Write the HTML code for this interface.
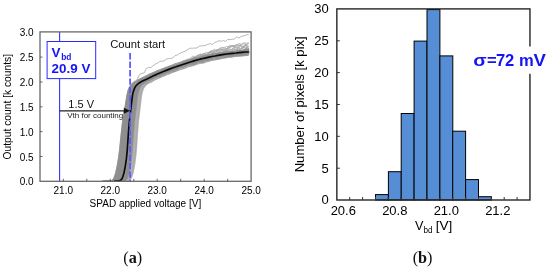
<!DOCTYPE html>
<html><head><meta charset="utf-8"><title>Figure</title>
<style>
html,body{margin:0;padding:0;background:#fff;}
svg{display:block;font-family:"Liberation Sans",sans-serif;}
.cap{font-family:"Liberation Serif",serif;}
</style></head><body>
<svg width="550" height="269" viewBox="0 0 550 269">
<rect width="550" height="269" fill="#fff"/>
<!-- panel a -->
<g>
<line x1="59.6" y1="31.9" x2="59.6" y2="181.3" stroke="#3333ff" stroke-width="1.1"/>
<path d="M100.9,181.2 104.9,181.2 107.2,181.1 108.9,180.9 110.9,180.5 112.1,179.7 113.3,178.2 114.9,173.8 116.5,166.3 117.8,158.9 119.0,150.0 120.4,136.0 122.0,122.0 123.6,113.0 125.0,104.3 126.5,95.4 127.2,91.2 128.0,88.8 128.7,87.2 129.3,85.9 130.4,84.4 131.3,83.4 132.7,82.2 134.3,81.1 137.4,79.4 141.4,77.5 145.4,75.4 149.4,73.5 153.4,71.8 157.4,70.1 161.4,68.5 165.4,66.9 169.4,65.4 173.4,64.0 177.4,62.6 181.4,61.2 185.4,59.9 189.4,58.7 193.4,57.6 197.4,56.6 201.4,55.6 205.4,54.7 209.4,54.0 213.4,53.2 217.4,52.5 221.4,51.9 225.4,51.4 229.4,50.9 233.4,50.4 237.4,50.0 241.4,49.6 245.4,49.2 248.7,48.9 248.7,55.9 247.9,56.0 243.9,56.3 239.9,56.7 235.9,57.1 231.9,57.6 227.9,58.1 223.9,58.8 219.9,59.4 215.9,60.2 211.9,61.0 207.9,61.9 203.9,62.9 199.9,64.0 195.9,65.1 191.9,66.4 187.9,67.6 183.9,68.9 179.9,70.3 175.9,71.7 171.9,73.3 167.9,74.8 163.9,76.4 159.9,78.2 155.9,80.1 151.9,81.9 148.8,83.5 147.2,84.5 145.8,85.7 144.9,86.7 143.9,88.2 143.3,89.5 142.7,91.1 142.0,93.5 141.4,95.4 140.3,104.3 139.3,113.0 138.2,122.0 137.1,136.0 136.2,150.0 135.3,158.9 134.2,166.3 132.7,173.8 131.2,178.2 130.1,179.7 128.9,180.5 126.9,180.9 125.2,181.1 122.9,181.2 118.9,181.2Z" fill="#a2a2a2" stroke="none"/>
<g fill="none" stroke-linejoin="round">
<path d="M118.3,181.2 122.3,181.2 124.6,181.1 126.3,180.9 128.3,180.5 129.5,179.6 130.6,178.2 132.1,173.7 133.6,166.1 134.7,158.6 135.6,149.6 136.5,135.5 137.6,121.3 138.7,112.2 139.7,103.4 140.8,94.4 141.4,91.5 142.1,89.1 142.7,87.4 143.3,86.1 144.3,84.6 145.2,83.5 146.6,82.3 148.2,81.2 150.7,77.2 153.2,77.9 155.7,77.2 158.2,76.0 160.7,73.1 163.2,72.9 165.7,71.2 168.2,70.3 170.7,71.1 173.2,68.1 175.7,67.8 178.2,67.7 180.7,65.2 183.2,64.7 185.7,64.0 188.2,63.0 190.7,60.8 193.2,61.2 195.7,61.6 198.2,57.8 200.7,59.4 203.2,57.8 205.7,56.3 208.2,58.2 210.7,56.3 213.2,53.6 215.7,54.3 218.2,54.2 220.7,52.9 223.2,53.2 225.7,51.9 228.2,52.1 230.7,52.4 233.2,49.9 235.7,50.3 238.2,49.3 240.7,49.5 243.2,47.8 245.7,48.1 248.2,48.2 248.7,49.2" stroke="#a2a2a2" stroke-opacity="1" stroke-width="0.75"/>
<path d="M113.5,181.2 117.5,181.2 119.8,181.1 121.5,180.9 123.5,180.5 124.7,179.6 125.8,178.2 127.3,173.7 128.8,166.1 129.9,158.6 130.8,149.6 131.7,135.4 132.8,121.2 133.9,112.1 134.9,103.3 136.0,94.2 136.6,91.4 137.3,89.0 137.9,87.3 138.5,86.0 139.5,84.5 140.4,83.4 141.8,82.2 143.4,81.0 145.9,80.6 148.4,78.3 150.9,77.6 153.4,74.4 155.9,74.8 158.4,71.5 160.9,70.0 163.4,70.6 165.9,68.9 168.4,68.9 170.9,69.9 173.4,65.7 175.9,64.9 178.4,64.8 180.9,64.1 183.4,62.5 185.9,61.5 188.4,61.5 190.9,60.4 193.4,58.0 195.9,58.1 198.4,57.4 200.9,55.5 203.4,56.1 205.9,54.2 208.4,55.4 210.9,54.0 213.4,53.3 215.9,52.0 218.4,51.9 220.9,49.5 223.4,49.9 225.9,50.9 228.4,47.9 230.9,50.4 233.4,47.4 235.9,49.6 238.4,47.6 240.9,48.9 243.4,47.9 245.9,45.9 248.4,48.4 248.7,48.5" stroke="#a2a2a2" stroke-opacity="1" stroke-width="0.75"/>
<path d="M115.6,181.2 119.6,181.2 121.9,181.1 123.6,180.9 125.6,180.5 126.8,179.6 127.9,178.2 129.4,173.7 130.9,166.1 132.0,158.6 132.9,149.5 133.8,135.3 134.9,121.1 136.0,111.9 137.0,103.1 138.1,94.1 138.7,91.2 139.4,88.7 140.0,87.1 140.6,85.8 141.6,84.2 142.5,83.2 143.9,81.9 145.5,80.8 148.0,80.7 150.5,76.6 153.0,76.5 155.5,74.8 158.0,72.3 160.5,73.6 163.0,71.6 165.5,70.6 168.0,68.7 170.5,68.8 173.0,66.7 175.5,66.0 178.0,64.0 180.5,62.9 183.0,64.5 185.5,61.7 188.0,61.5 190.5,60.3 193.0,58.9 195.5,58.0 198.0,58.3 200.5,56.5 203.0,55.9 205.5,55.3 208.0,55.7 210.5,54.5 213.0,53.6 215.5,52.0 218.0,50.6 220.5,52.3 223.0,51.8 225.5,50.2 228.0,50.3 230.5,50.1 233.0,49.7 235.5,49.4 238.0,47.6 240.5,49.2 243.0,46.1 245.5,47.9 248.0,47.1 248.7,47.4" stroke="#a2a2a2" stroke-opacity="1" stroke-width="0.75"/>
<path d="M118.0,181.2 122.0,181.2 124.3,181.1 126.0,180.9 128.0,180.5 129.2,179.6 130.3,178.1 131.8,173.7 133.3,166.0 134.4,158.5 135.3,149.5 136.2,135.2 137.3,121.0 138.4,111.8 139.4,102.9 140.5,93.8 141.1,91.0 141.8,88.5 142.4,86.8 143.0,85.5 144.0,84.0 144.9,82.9 146.3,81.6 147.9,80.5 150.4,79.2 152.9,76.9 155.4,76.8 157.9,75.4 160.4,75.8 162.9,71.1 165.4,72.2 167.9,70.1 170.4,69.0 172.9,66.5 175.4,66.3 177.9,66.5 180.4,64.6 182.9,63.7 185.4,62.4 187.9,62.8 190.4,60.7 192.9,57.6 195.4,58.2 197.9,56.0 200.4,53.8 202.9,55.7 205.4,56.8 207.9,54.7 210.4,52.7 212.9,52.3 215.4,53.7 217.9,52.1 220.4,51.3 222.9,50.7 225.4,50.2 227.9,50.4 230.4,49.6 232.9,48.8 235.4,47.1 237.9,48.2 240.4,46.6 242.9,48.0 245.4,45.3 247.9,46.1 248.7,46.1" stroke="#a2a2a2" stroke-opacity="1" stroke-width="0.75"/>
<path d="M112.7,181.2 116.7,181.2 119.0,181.1 120.7,180.9 122.7,180.5 123.9,179.6 125.0,178.1 126.5,173.7 128.0,166.0 129.1,158.5 130.0,149.4 130.9,135.1 132.0,120.9 133.1,111.7 134.1,102.8 135.2,93.7 135.8,90.9 136.5,88.4 137.1,86.8 137.7,85.5 138.7,83.9 139.6,82.9 141.0,81.6 142.6,80.4 145.1,78.7 147.6,77.4 150.1,76.4 152.6,76.5 155.1,74.2 157.6,72.3 160.1,70.6 162.6,69.4 165.1,70.5 167.6,68.2 170.1,66.7 172.6,65.2 175.1,63.4 177.6,63.4 180.1,63.3 182.6,61.1 185.1,60.3 187.6,59.3 190.1,58.7 192.6,56.1 195.1,56.6 197.6,55.1 200.1,56.0 202.6,53.6 205.1,54.2 207.6,54.4 210.1,51.9 212.6,50.9 215.1,51.1 217.6,50.3 220.1,48.8 222.6,49.7 225.1,50.7 227.6,47.9 230.1,47.5 232.6,46.2 235.1,47.2 237.6,45.2 240.1,45.0 242.6,47.0 245.1,44.4 247.6,46.1 248.7,46.3" stroke="#a2a2a2" stroke-opacity="1" stroke-width="0.75"/>
<path d="M118.4,181.2 122.4,181.2 124.7,181.1 126.4,180.9 128.4,180.5 129.6,179.6 130.7,178.1 132.2,173.6 133.7,166.0 134.8,158.4 135.7,149.3 136.6,135.0 137.7,120.7 138.8,111.5 139.8,102.6 140.9,93.5 141.5,90.6 142.2,88.1 142.8,86.4 143.4,85.1 144.4,83.5 145.3,82.5 146.7,81.2 148.3,80.0 150.8,76.5 153.3,75.8 155.8,76.7 158.3,75.2 160.8,73.0 163.3,70.2 165.8,70.3 168.3,68.8 170.8,69.0 173.3,69.4 175.8,66.3 178.3,64.2 180.8,62.7 183.3,62.8 185.8,61.6 188.3,59.7 190.8,60.0 193.3,57.7 195.8,59.0 198.3,58.1 200.8,57.2 203.3,54.7 205.8,54.9 208.3,53.5 210.8,52.4 213.3,51.8 215.8,50.1 218.3,49.3 220.8,50.9 223.3,49.3 225.8,49.1 228.3,49.4 230.8,46.1 233.3,46.5 235.8,47.0 238.3,46.8 240.8,45.6 243.3,46.6 245.8,45.3 248.3,43.5 248.7,43.8" stroke="#a2a2a2" stroke-opacity="1" stroke-width="0.75"/>
<path d="M116.8,181.2 120.8,181.2 123.1,181.1 124.8,180.9 126.8,180.5 128.0,179.6 129.1,178.1 130.6,173.6 132.1,166.0 133.2,158.4 134.1,149.3 135.0,134.9 136.1,120.6 137.2,111.4 138.2,102.5 139.3,93.3 139.9,90.4 140.6,88.0 141.2,86.3 141.8,84.9 142.8,83.4 143.7,82.3 145.1,81.0 146.7,79.8 149.2,78.0 151.7,76.0 154.2,74.4 156.7,74.3 159.2,73.8 161.7,70.1 164.2,70.4 166.7,68.6 169.2,67.1 171.7,67.8 174.2,65.2 176.7,66.1 179.2,62.8 181.7,62.9 184.2,61.3 186.7,59.7 189.2,60.1 191.7,58.4 194.2,58.1 196.7,56.5 199.2,54.6 201.7,54.7 204.2,54.0 206.7,54.1 209.2,51.5 211.7,51.6 214.2,49.2 216.7,50.9 219.2,48.5 221.7,47.2 224.2,48.3 226.7,48.9 229.2,45.7 231.7,45.6 234.2,45.5 236.7,44.6 239.2,45.7 241.7,44.1 244.2,43.8 246.7,44.7 248.7,43.0" stroke="#a2a2a2" stroke-opacity="1" stroke-width="0.75"/>
<path d="M119.0,181.2 123.0,181.2 125.3,181.1 127.0,180.9 129.0,180.5 130.2,179.6 131.3,178.1 132.8,173.6 134.3,165.9 135.4,158.3 136.3,149.2 137.2,134.9 138.3,120.5 139.4,111.2 140.4,102.2 141.5,93.1 142.1,90.2 142.8,87.7 143.4,86.0 144.0,84.7 145.0,83.1 145.9,82.0 147.3,80.7 148.9,79.5 151.4,76.9 153.9,76.4 156.4,73.8 158.9,73.0 161.4,73.9 163.9,72.1 166.4,69.6 168.9,67.9 171.4,65.8 173.9,66.1 176.4,65.3 178.9,64.1 181.4,63.0 183.9,60.9 186.4,60.9 188.9,59.9 191.4,60.2 193.9,59.8 196.4,56.8 198.9,55.3 201.4,55.0 203.9,53.6 206.4,52.6 208.9,52.5 211.4,50.7 213.9,51.6 216.4,50.1 218.9,49.8 221.4,48.7 223.9,47.5 226.4,46.7 228.9,46.8 231.4,46.0 233.9,46.2 236.4,45.4 238.9,43.6 241.4,44.6 243.9,42.8 246.4,43.1 248.7,43.0" stroke="#a2a2a2" stroke-opacity="1" stroke-width="0.75"/>
<path d="M101.5,181.2 105.5,181.2 107.8,181.1 109.5,180.9 111.5,180.5 112.7,179.7 113.9,178.2 115.5,173.8 117.2,166.3 118.4,158.9 119.6,150.0 121.0,136.0 122.5,122.0 124.0,113.0 125.4,104.3 126.8,95.4 127.5,92.6 128.3,90.2 129.0,88.6 129.6,87.3 130.7,85.9 131.6,84.8 133.0,83.6 134.6,82.5 137.1,80.2 139.6,80.3 142.1,79.6 144.6,78.2 147.1,76.5 149.6,74.2 152.1,74.7 154.6,73.0 157.1,70.4 159.6,71.3 162.1,69.1 164.6,68.2 167.1,67.7 169.6,68.1 172.1,66.1 174.6,65.7 177.1,65.8 179.6,64.9 182.1,62.9 184.6,62.1 187.1,60.6 189.6,60.3 192.1,60.3 194.6,59.6 197.1,58.8 199.6,58.8 202.1,57.1 204.6,57.1 207.1,57.1 209.6,56.5 212.1,56.4 214.6,55.5 217.1,54.6 219.6,54.7 222.1,53.5 224.6,52.7 227.1,53.9 229.6,53.2 232.1,53.2 234.6,51.6 237.1,52.2 239.6,51.8 242.1,51.4 244.6,50.3 247.1,51.3 248.7,52.0" stroke="#8e8e8e" stroke-opacity="0.7" stroke-width="1.0"/>
<path d="M111.8,181.2 115.8,181.2 118.1,181.1 119.8,180.9 121.8,180.5 123.0,179.7 124.1,178.2 125.6,173.8 127.1,166.3 128.2,158.9 129.1,150.1 130.0,136.1 131.1,122.1 132.2,113.1 133.2,104.5 134.3,95.6 134.9,92.8 135.6,90.4 136.2,88.8 136.8,87.5 137.8,86.0 138.7,85.0 140.1,83.8 141.7,82.7 144.2,81.9 146.7,80.9 149.2,78.0 151.7,77.2 154.2,76.8 156.7,75.0 159.2,73.4 161.7,74.0 164.2,72.6 166.7,71.6 169.2,70.0 171.7,70.0 174.2,68.3 176.7,68.3 179.2,66.1 181.7,65.3 184.2,65.1 186.7,63.7 189.2,63.8 191.7,62.8 194.2,61.3 196.7,61.2 199.2,60.2 201.7,60.4 204.2,58.8 206.7,58.3 209.2,58.9 211.7,59.0 214.2,58.4 216.7,56.7 219.2,56.3 221.7,56.8 224.2,55.3 226.7,54.4 229.2,54.7 231.7,54.7 234.2,53.6 236.7,52.8 239.2,52.6 241.7,53.8 244.2,52.6 246.7,52.8 248.7,52.8" stroke="#8e8e8e" stroke-opacity="0.7" stroke-width="1.0"/>
<path d="M112.8,181.2 116.8,181.2 119.1,181.1 120.8,180.9 122.8,180.5 124.0,179.7 125.1,178.2 126.6,173.8 128.1,166.3 129.2,158.9 130.1,150.0 131.0,136.1 132.1,122.1 133.2,113.1 134.2,104.4 135.3,95.5 135.9,92.7 136.6,90.3 137.2,88.7 137.8,87.4 138.8,86.0 139.7,85.0 141.1,83.7 142.7,82.7 145.2,82.5 147.7,81.2 150.2,79.3 152.7,78.1 155.2,75.2 157.7,75.7 160.2,74.1 162.7,73.5 165.2,72.7 167.7,71.0 170.2,69.1 172.7,69.5 175.2,67.9 177.7,67.2 180.2,66.2 182.7,65.5 185.2,63.4 187.7,64.9 190.2,63.4 192.7,63.2 195.2,63.0 197.7,61.0 200.2,59.1 202.7,59.1 205.2,58.3 207.7,58.1 210.2,58.0 212.7,56.1 215.2,57.1 217.7,55.5 220.2,56.2 222.7,55.5 225.2,55.0 227.7,54.7 230.2,54.1 232.7,53.8 235.2,52.8 237.7,53.6 240.2,54.5 242.7,54.4 245.2,53.7 247.7,53.1 248.7,52.1" stroke="#8e8e8e" stroke-opacity="0.7" stroke-width="1.0"/>
<path d="M116.1,181.2 120.1,181.2 122.4,181.1 124.1,180.9 126.1,180.5 127.3,179.7 128.4,178.2 129.9,173.8 131.4,166.3 132.5,158.9 133.4,150.0 134.3,136.0 135.4,122.0 136.5,113.1 137.5,104.4 138.6,95.5 139.2,92.7 139.9,90.3 140.5,88.6 141.1,87.4 142.1,85.9 143.0,84.9 144.4,83.7 146.0,82.6 148.5,80.9 151.0,80.5 153.5,79.3 156.0,78.5 158.5,75.4 161.0,75.7 163.5,74.0 166.0,72.7 168.5,72.5 171.0,70.5 173.5,68.8 176.0,68.9 178.5,67.2 181.0,66.9 183.5,66.7 186.0,65.8 188.5,65.8 191.0,63.8 193.5,62.1 196.0,61.8 198.5,61.0 201.0,60.0 203.5,60.4 206.0,59.1 208.5,57.6 211.0,58.7 213.5,57.6 216.0,57.4 218.5,56.8 221.0,56.7 223.5,55.8 226.0,56.2 228.5,55.2 231.0,54.8 233.5,54.5 236.0,53.0 238.5,53.5 241.0,53.2 243.5,53.2 246.0,52.0 248.5,53.7 248.7,52.7" stroke="#b4b4b4" stroke-opacity="0.8" stroke-width="0.8"/>
<path d="M105.2,181.2 109.2,181.2 111.5,181.1 113.2,180.9 115.2,180.5 116.4,179.7 117.5,178.2 119.1,173.8 120.7,166.4 121.9,159.0 122.9,150.2 124.1,136.2 125.4,122.3 126.8,113.3 128.0,104.7 129.3,95.8 129.9,93.0 130.7,90.6 131.3,89.0 132.0,87.8 133.0,86.3 133.9,85.3 135.3,84.1 136.9,83.0 139.4,81.5 141.9,79.3 144.4,79.0 146.9,78.6 149.4,77.3 151.9,75.7 154.4,74.1 156.9,74.1 159.4,72.3 161.9,71.0 164.4,70.2 166.9,70.7 169.4,69.0 171.9,68.8 174.4,66.9 176.9,67.0 179.4,65.1 181.9,64.6 184.4,65.6 186.9,63.7 189.4,62.1 191.9,61.7 194.4,61.3 196.9,61.2 199.4,59.5 201.9,58.2 204.4,58.6 206.9,58.3 209.4,57.9 211.9,58.2 214.4,57.2 216.9,57.1 219.4,55.4 221.9,56.4 224.4,56.9 226.9,55.7 229.4,55.1 231.9,54.8 234.4,55.6 236.9,53.6 239.4,53.9 241.9,54.1 244.4,54.1 246.9,53.1 248.7,53.4" stroke="#8e8e8e" stroke-opacity="0.7" stroke-width="1.0"/>
<path d="M109.1,181.2 113.1,181.2 115.4,181.1 117.1,180.9 119.1,180.5 120.3,179.7 121.4,178.2 123.0,173.8 124.5,166.3 125.6,158.9 126.5,150.0 127.5,136.0 128.6,122.0 129.8,113.0 130.8,104.3 131.9,95.4 132.5,92.6 133.2,90.2 133.9,88.6 134.5,87.3 135.5,85.8 136.4,84.8 137.8,83.6 139.4,82.5 141.9,81.3 144.4,80.5 146.9,78.8 149.4,77.9 151.9,76.0 154.4,73.8 156.9,74.7 159.4,73.5 161.9,72.1 164.4,71.1 166.9,70.7 169.4,68.8 171.9,67.7 174.4,67.1 176.9,67.1 179.4,64.6 181.9,65.4 184.4,63.4 186.9,62.3 189.4,63.0 191.9,61.4 194.4,59.9 196.9,59.8 199.4,60.0 201.9,59.5 204.4,57.9 206.9,57.9 209.4,57.5 211.9,56.2 214.4,56.3 216.9,55.6 219.4,54.9 221.9,54.5 224.4,54.5 226.9,54.1 229.4,53.4 231.9,53.2 234.4,53.9 236.9,53.1 239.4,53.3 241.9,53.2 244.4,52.6 246.9,53.4 248.7,51.3" stroke="#8e8e8e" stroke-opacity="0.7" stroke-width="1.0"/>
<path d="M113.5,181.2 117.5,181.2 119.8,181.1 121.5,180.9 123.5,180.5 124.7,179.7 125.8,178.2 127.3,173.8 128.8,166.3 129.9,158.9 130.8,150.0 131.7,136.1 132.8,122.1 133.9,113.1 134.9,104.4 136.0,95.5 136.6,92.7 137.3,90.3 137.9,88.7 138.5,87.4 139.5,86.0 140.4,85.0 141.8,83.7 143.4,82.7 145.9,81.9 148.4,80.0 150.9,79.6 153.4,77.7 155.9,76.4 158.4,75.7 160.9,74.9 163.4,73.0 165.9,72.1 168.4,71.1 170.9,70.3 173.4,68.7 175.9,69.0 178.4,67.2 180.9,66.9 183.4,65.2 185.9,65.1 188.4,64.3 190.9,63.0 193.4,63.8 195.9,61.9 198.4,62.1 200.9,60.9 203.4,59.2 205.9,58.8 208.4,58.7 210.9,57.9 213.4,57.4 215.9,56.7 218.4,55.3 220.9,55.8 223.4,54.1 225.9,55.4 228.4,54.3 230.9,54.0 233.4,54.0 235.9,54.0 238.4,52.7 240.9,52.2 243.4,52.4 245.9,51.5 248.4,52.0 248.7,53.6" stroke="#8e8e8e" stroke-opacity="0.7" stroke-width="1.0"/>
<path d="M105.8,181.2 109.8,181.2 112.1,181.1 113.8,180.9 115.8,180.5 117.1,179.7 118.2,178.2 119.7,173.8 121.3,166.3 122.5,158.9 123.5,150.0 124.7,136.0 126.0,121.9 127.3,112.9 128.4,104.2 129.7,95.3 130.4,92.5 131.1,90.1 131.7,88.5 132.4,87.2 133.4,85.7 134.3,84.7 135.7,83.5 137.3,82.4 139.8,80.3 142.3,79.3 144.8,78.4 147.3,78.1 149.8,75.6 152.3,74.5 154.8,74.5 157.3,73.4 159.8,71.6 162.3,70.1 164.8,68.8 167.3,68.4 169.8,66.4 172.3,67.5 174.8,65.7 177.3,65.5 179.8,65.6 182.3,64.3 184.8,62.0 187.3,62.5 189.8,61.9 192.3,59.9 194.8,59.1 197.3,59.0 199.8,57.4 202.3,58.8 204.8,55.7 207.3,56.0 209.8,56.0 212.3,55.6 214.8,55.4 217.3,55.0 219.8,54.3 222.3,54.8 224.8,52.3 227.3,53.4 229.8,52.6 232.3,52.9 234.8,52.7 237.3,51.7 239.8,51.6 242.3,52.3 244.8,51.7 247.3,50.8 248.7,52.5" stroke="#8e8e8e" stroke-opacity="0.7" stroke-width="1.0"/>
<path d="M119.2,181.2 123.2,181.2 125.5,181.1 127.2,180.9 129.2,180.5 130.4,179.7 131.5,178.2 133.0,173.8 134.5,166.4 135.6,159.0 136.5,150.1 137.4,136.2 138.5,122.3 139.6,113.3 140.6,104.6 141.7,95.8 142.3,93.0 143.0,90.6 143.6,89.0 144.2,87.8 145.2,86.3 146.1,85.3 147.5,84.1 149.1,83.0 151.6,82.5 154.1,80.5 156.6,78.8 159.1,77.8 161.6,76.5 164.1,75.9 166.6,74.2 169.1,74.4 171.6,72.2 174.1,70.2 176.6,70.3 179.1,68.5 181.6,68.9 184.1,68.7 186.6,67.6 189.1,65.5 191.6,65.0 194.1,65.9 196.6,64.1 199.1,63.2 201.6,63.1 204.1,63.3 206.6,61.9 209.1,60.5 211.6,60.0 214.1,59.6 216.6,58.3 219.1,57.5 221.6,57.8 224.1,56.7 226.6,56.8 229.1,56.5 231.6,57.6 234.1,55.2 236.6,55.3 239.1,55.0 241.6,55.1 244.1,55.3 246.6,54.0 248.7,53.6" stroke="#b4b4b4" stroke-opacity="0.8" stroke-width="0.8"/>
<path d="M103.4,181.2 107.4,181.2 109.7,181.1 111.4,180.9 113.4,180.5 114.6,179.7 115.7,178.2 117.3,173.8 118.9,166.3 120.2,159.0 121.3,150.1 122.5,136.1 124.0,122.2 125.4,113.2 126.7,104.5 128.1,95.7 128.7,92.9 129.5,90.5 130.2,88.8 130.8,87.6 131.8,86.1 132.8,85.1 134.2,83.9 135.8,82.8 138.3,81.8 140.8,80.8 143.3,78.8 145.8,78.5 148.3,77.4 150.8,76.2 153.3,75.3 155.8,73.3 158.3,72.3 160.8,72.0 163.3,69.5 165.8,69.6 168.3,68.2 170.8,67.4 173.3,65.7 175.8,65.4 178.3,65.1 180.8,64.9 183.3,64.2 185.8,62.7 188.3,61.9 190.8,60.8 193.3,60.9 195.8,59.8 198.3,59.8 200.8,59.9 203.3,58.2 205.8,56.8 208.3,56.7 210.8,55.9 213.3,55.6 215.8,56.8 218.3,55.7 220.8,54.2 223.3,55.3 225.8,55.4 228.3,54.1 230.8,53.6 233.3,53.6 235.8,53.7 238.3,53.7 240.8,53.9 243.3,53.7 245.8,53.4 248.3,53.4 248.7,52.9" stroke="#8e8e8e" stroke-opacity="0.7" stroke-width="1.0"/>
<path d="M103.8,181.2 107.8,181.2 110.1,181.1 111.8,180.9 113.8,180.5 115.0,179.7 116.2,178.2 117.7,173.8 119.4,166.3 120.6,158.9 121.7,150.0 122.9,136.0 124.4,122.1 125.7,113.1 127.0,104.4 128.4,95.5 129.0,92.7 129.8,90.3 130.5,88.7 131.1,87.4 132.1,85.9 133.1,84.9 134.5,83.7 136.1,82.6 138.6,80.8 141.1,80.6 143.6,78.5 146.1,77.0 148.6,76.5 151.1,75.7 153.6,73.8 156.1,73.4 158.6,72.1 161.1,73.0 163.6,69.7 166.1,70.1 168.6,68.2 171.1,67.2 173.6,66.9 176.1,66.2 178.6,65.6 181.1,64.2 183.6,62.7 186.1,62.0 188.6,61.9 191.1,61.2 193.6,61.1 196.1,59.8 198.6,59.6 201.1,59.3 203.6,57.9 206.1,56.3 208.6,56.0 211.1,55.3 213.6,56.9 216.1,54.9 218.6,55.8 221.1,55.0 223.6,55.4 226.1,54.6 228.6,53.6 231.1,53.3 233.6,53.2 236.1,53.0 238.6,52.3 241.1,52.4 243.6,53.2 246.1,50.9 248.6,51.9 248.7,51.1" stroke="#8e8e8e" stroke-opacity="0.7" stroke-width="1.0"/>
<path d="M111.0,181.2 115.0,181.2 117.3,181.1 119.0,180.9 121.0,180.5 122.2,179.7 123.3,178.2 124.8,173.8 126.3,166.3 127.4,158.9 128.3,150.0 129.2,135.9 130.3,121.9 131.4,112.9 132.4,104.2 133.5,95.3 134.1,92.5 134.8,90.1 135.4,88.4 136.0,87.2 137.0,85.7 137.9,84.7 139.3,83.5 140.9,82.4 143.4,80.3 145.9,80.6 148.4,77.8 150.9,77.2 153.4,76.3 155.9,75.5 158.4,74.1 160.9,73.0 163.4,71.3 165.9,69.9 168.4,69.8 170.9,68.3 173.4,67.0 175.9,66.1 178.4,65.7 180.9,63.9 183.4,63.4 185.9,62.4 188.4,62.7 190.9,62.1 193.4,62.3 195.9,59.3 198.4,59.1 200.9,59.5 203.4,58.1 205.9,57.5 208.4,58.2 210.9,56.4 213.4,55.3 215.9,54.7 218.4,55.4 220.9,54.9 223.4,53.4 225.9,53.2 228.4,53.9 230.9,53.6 233.4,52.5 235.9,53.0 238.4,52.7 240.9,50.9 243.4,51.6 245.9,51.8 248.4,50.9 248.7,49.9" stroke="#8e8e8e" stroke-opacity="0.7" stroke-width="1.0"/>
<path d="M109.1,181.2 113.1,181.2 115.4,181.1 117.1,180.9 119.1,180.5 120.3,179.7 121.4,178.2 122.9,173.8 124.5,166.3 125.6,158.9 126.5,150.0 127.4,135.9 128.6,121.9 129.7,112.9 130.8,104.2 131.9,95.3 132.5,92.5 133.2,90.1 133.8,88.5 134.4,87.2 135.4,85.7 136.4,84.7 137.8,83.5 139.4,82.4 141.9,81.0 144.4,79.2 146.9,78.5 149.4,77.3 151.9,77.4 154.4,75.8 156.9,73.8 159.4,73.6 161.9,71.3 164.4,70.6 166.9,70.4 169.4,68.0 171.9,67.7 174.4,66.1 176.9,66.1 179.4,66.2 181.9,63.8 184.4,63.6 186.9,62.1 189.4,61.1 191.9,60.3 194.4,61.3 196.9,61.2 199.4,59.3 201.9,57.9 204.4,58.2 206.9,57.0 209.4,57.2 211.9,56.3 214.4,55.9 216.9,55.6 219.4,54.4 221.9,54.1 224.4,52.8 226.9,53.3 229.4,52.4 231.9,52.9 234.4,52.1 236.9,52.5 239.4,52.5 241.9,51.0 244.4,51.1 246.9,50.8 248.7,51.7" stroke="#8e8e8e" stroke-opacity="0.7" stroke-width="1.0"/>
<path d="M117.1,181.2 121.1,181.2 123.4,181.1 125.1,180.9 127.1,180.5 128.3,179.7 129.4,178.2 130.9,173.8 132.4,166.3 133.5,158.9 134.4,150.0 135.3,135.9 136.4,121.9 137.5,112.9 138.5,104.2 139.6,95.3 140.2,92.5 140.9,90.1 141.5,88.4 142.1,87.2 143.1,85.7 144.0,84.7 145.4,83.4 147.0,82.3 149.5,80.3 152.0,80.1 154.5,78.5 157.0,76.6 159.5,75.8 162.0,74.6 164.5,73.5 167.0,73.3 169.5,72.2 172.0,70.3 174.5,69.1 177.0,68.9 179.5,67.7 182.0,67.5 184.5,67.7 187.0,65.7 189.5,64.2 192.0,63.3 194.5,62.0 197.0,61.2 199.5,60.4 202.0,60.0 204.5,59.3 207.0,59.4 209.5,58.0 212.0,57.5 214.5,56.3 217.0,57.6 219.5,56.4 222.0,56.7 224.5,55.6 227.0,55.6 229.5,54.1 232.0,54.3 234.5,55.3 237.0,52.4 239.5,53.6 242.0,53.7 244.5,52.6 247.0,52.5 248.7,52.7" stroke="#b4b4b4" stroke-opacity="0.8" stroke-width="0.8"/>
<path d="M107.5,181.2 111.5,181.2 113.8,181.1 115.5,180.9 117.5,180.5 118.7,179.7 119.8,178.2 121.3,173.8 122.9,166.3 124.0,158.9 125.0,150.0 126.0,136.0 127.3,122.0 128.5,113.0 129.6,104.3 130.8,95.4 131.4,92.6 132.2,90.2 132.8,88.5 133.4,87.3 134.4,85.8 135.3,84.8 136.7,83.6 138.3,82.5 140.8,82.1 143.3,79.8 145.8,78.4 148.3,77.5 150.8,75.9 153.3,76.1 155.8,73.4 158.3,73.5 160.8,71.1 163.3,71.4 165.8,69.8 168.3,67.2 170.8,68.0 173.3,66.4 175.8,65.9 178.3,66.4 180.8,63.8 183.3,63.0 185.8,63.8 188.3,62.1 190.8,62.3 193.3,60.8 195.8,59.3 198.3,59.1 200.8,59.4 203.3,58.6 205.8,57.4 208.3,56.9 210.8,56.3 213.3,55.5 215.8,56.7 218.3,55.0 220.8,53.8 223.3,53.9 225.8,54.4 228.3,54.0 230.8,53.2 233.3,52.5 235.8,52.7 238.3,51.3 240.8,51.3 243.3,52.5 245.8,51.4 248.3,51.7 248.7,52.3" stroke="#8e8e8e" stroke-opacity="0.7" stroke-width="1.0"/>
<path d="M113.0,181.2 117.0,181.2 119.3,181.1 121.0,180.9 123.0,180.5 124.2,179.7 125.3,178.2 126.8,173.8 128.3,166.3 129.4,158.9 130.3,150.0 131.2,136.0 132.3,122.0 133.4,113.0 134.4,104.3 135.5,95.5 136.1,92.7 136.8,90.3 137.4,88.6 138.0,87.4 139.0,85.9 139.9,84.9 141.3,83.7 142.9,82.6 145.4,80.9 147.9,79.8 150.4,79.0 152.9,78.3 155.4,74.9 157.9,74.6 160.4,73.5 162.9,72.4 165.4,71.5 167.9,70.5 170.4,70.3 172.9,68.5 175.4,68.3 177.9,67.5 180.4,65.9 182.9,65.6 185.4,65.8 187.9,64.1 190.4,62.6 192.9,62.2 195.4,60.9 197.9,61.0 200.4,60.7 202.9,58.9 205.4,58.7 207.9,59.0 210.4,57.3 212.9,57.3 215.4,56.0 217.9,55.6 220.4,55.4 222.9,56.7 225.4,54.6 227.9,54.2 230.4,53.8 232.9,53.8 235.4,54.0 237.9,53.4 240.4,54.4 242.9,52.9 245.4,53.5 247.9,52.5 248.7,52.6" stroke="#8e8e8e" stroke-opacity="0.7" stroke-width="1.0"/>
<path d="M104.2,181.2 108.2,181.2 110.5,181.1 112.2,180.9 114.2,180.5 115.4,179.7 116.5,178.2 118.1,173.8 119.7,166.3 120.9,158.9 122.0,150.0 123.3,136.0 124.7,122.1 126.0,113.1 127.3,104.4 128.6,95.5 129.3,92.7 130.1,90.3 130.7,88.7 131.3,87.4 132.4,85.9 133.3,84.9 134.7,83.7 136.3,82.6 138.8,80.1 141.3,79.2 143.8,78.6 146.3,77.4 148.8,76.1 151.3,75.3 153.8,72.8 156.3,73.5 158.8,71.2 161.3,70.7 163.8,69.8 166.3,68.4 168.8,67.3 171.3,66.7 173.8,66.4 176.3,66.0 178.8,65.1 181.3,63.3 183.8,62.6 186.3,61.7 188.8,61.9 191.3,59.5 193.8,61.0 196.3,59.2 198.8,58.4 201.3,58.5 203.8,58.4 206.3,57.5 208.8,57.4 211.3,56.4 213.8,56.6 216.3,56.2 218.8,54.9 221.3,55.6 223.8,54.4 226.3,54.0 228.8,53.1 231.3,53.2 233.8,53.7 236.3,52.0 238.8,53.1 241.3,52.6 243.8,52.4 246.3,50.5 248.7,51.7" stroke="#8e8e8e" stroke-opacity="0.7" stroke-width="1.0"/>
<path d="M112.9,181.2 116.9,181.2 119.2,181.1 120.9,180.9 122.9,180.5 124.1,179.7 125.2,178.2 126.7,173.8 128.2,166.3 129.3,159.0 130.2,150.1 131.1,136.1 132.2,122.2 133.3,113.2 134.3,104.5 135.4,95.6 136.0,92.8 136.7,90.4 137.3,88.8 137.9,87.5 138.9,86.1 139.8,85.1 141.2,83.9 142.8,82.8 145.3,80.8 147.8,80.1 150.3,78.2 152.8,76.9 155.3,77.3 157.8,75.0 160.3,75.9 162.8,73.4 165.3,72.0 167.8,71.9 170.3,71.6 172.8,69.8 175.3,67.7 177.8,67.9 180.3,67.7 182.8,65.6 185.3,64.6 187.8,64.9 190.3,63.6 192.8,62.0 195.3,61.7 197.8,60.8 200.3,60.8 202.8,60.0 205.3,60.1 207.8,59.2 210.3,57.2 212.8,57.9 215.3,57.8 217.8,57.0 220.3,57.0 222.8,55.5 225.3,54.9 227.8,55.7 230.3,54.1 232.8,53.1 235.3,54.9 237.8,53.5 240.3,53.5 242.8,52.6 245.3,52.4 247.8,52.2 248.7,52.7" stroke="#8e8e8e" stroke-opacity="0.7" stroke-width="1.0"/>
<path d="M111.8,181.2 115.8,181.2 118.1,181.1 119.8,180.9 121.8,180.5 123.0,179.7 124.1,178.2 125.6,173.8 127.1,166.4 128.2,159.0 129.1,150.2 130.0,136.3 131.1,122.4 132.2,113.4 133.2,104.8 134.3,95.9 134.9,93.2 135.6,90.8 136.2,89.1 136.8,87.9 137.8,86.4 138.7,85.4 140.1,84.2 141.7,83.2 144.2,81.1 146.7,81.4 149.2,80.3 151.7,78.0 154.2,76.7 156.7,76.1 159.2,75.0 161.7,73.3 164.2,73.3 166.7,70.7 169.2,70.8 171.7,69.8 174.2,69.0 176.7,68.5 179.2,66.7 181.7,67.1 184.2,65.8 186.7,64.7 189.2,63.4 191.7,62.8 194.2,63.1 196.7,61.5 199.2,61.5 201.7,61.6 204.2,60.9 206.7,60.7 209.2,59.0 211.7,58.0 214.2,58.9 216.7,58.0 219.2,58.2 221.7,57.0 224.2,57.4 226.7,56.9 229.2,56.5 231.7,56.1 234.2,55.7 236.7,55.4 239.2,55.2 241.7,55.4 244.2,54.2 246.7,55.5 248.7,54.1" stroke="#8e8e8e" stroke-opacity="0.7" stroke-width="1.0"/>
<path d="M114.2,181.2 118.2,181.2 120.5,181.1 122.2,180.9 124.2,180.5 125.4,179.7 126.5,178.2 128.0,173.8 129.5,166.3 130.6,158.9 131.5,150.0 132.4,136.0 133.5,122.1 134.6,113.1 135.6,104.4 136.7,95.5 137.3,92.7 138.0,90.3 138.6,88.6 139.2,87.4 140.2,85.9 141.1,84.9 142.5,83.7 144.1,82.6 146.6,82.2 149.1,80.2 151.6,79.5 154.1,78.5 156.6,76.1 159.1,75.8 161.6,74.0 164.1,73.1 166.6,72.1 169.1,71.1 171.6,70.8 174.1,69.2 176.6,68.1 179.1,67.1 181.6,66.7 184.1,65.0 186.6,64.4 189.1,63.9 191.6,62.7 194.1,62.3 196.6,61.2 199.1,62.1 201.6,61.0 204.1,59.8 206.6,58.8 209.1,59.7 211.6,58.0 214.1,57.2 216.6,56.9 219.1,56.5 221.6,56.7 224.1,55.4 226.6,56.4 229.1,54.0 231.6,54.7 234.1,53.3 236.6,54.9 239.1,53.2 241.6,53.1 244.1,53.5 246.6,53.5 248.7,51.7" stroke="#8e8e8e" stroke-opacity="0.7" stroke-width="1.0"/>
<path d="M108.9,181.2 112.9,181.2 115.2,181.1 116.9,180.9 118.9,180.5 120.1,179.7 121.2,178.2 122.7,173.8 124.2,166.4 125.3,159.0 126.3,150.1 127.2,136.2 128.4,122.2 129.5,113.3 130.6,104.6 131.7,95.8 132.3,93.0 133.1,90.6 133.7,88.9 134.3,87.7 135.3,86.2 136.2,85.2 137.6,84.0 139.2,82.9 141.7,82.2 144.2,81.2 146.7,78.5 149.2,77.5 151.7,77.8 154.2,76.6 156.7,74.1 159.2,72.8 161.7,72.2 164.2,71.3 166.7,69.6 169.2,69.7 171.7,68.0 174.2,67.1 176.7,67.6 179.2,65.8 181.7,65.4 184.2,65.0 186.7,64.3 189.2,62.8 191.7,62.3 194.2,61.1 196.7,62.0 199.2,60.7 201.7,59.0 204.2,59.1 206.7,59.0 209.2,58.4 211.7,58.8 214.2,58.1 216.7,56.4 219.2,56.3 221.7,55.1 224.2,55.8 226.7,55.4 229.2,56.7 231.7,54.8 234.2,53.1 236.7,53.8 239.2,54.1 241.7,52.9 244.2,53.0 246.7,53.1 248.7,53.4" stroke="#8e8e8e" stroke-opacity="0.7" stroke-width="1.0"/>
<path d="M109.6,181.2 113.6,181.2 115.9,181.1 117.6,180.9 119.6,180.5 120.8,179.7 121.9,178.2 123.4,173.8 124.9,166.3 126.0,159.0 127.0,150.1 127.9,136.1 129.0,122.2 130.1,113.2 131.1,104.5 132.2,95.6 132.8,92.9 133.6,90.5 134.2,88.8 134.8,87.6 135.8,86.1 136.7,85.1 138.1,83.9 139.7,82.8 142.2,81.7 144.7,79.3 147.2,79.7 149.7,78.7 152.2,75.9 154.7,74.6 157.2,74.7 159.7,73.0 162.2,70.9 164.7,71.9 167.2,70.5 169.7,69.2 172.2,69.9 174.7,67.8 177.2,66.3 179.7,66.0 182.2,64.5 184.7,63.8 187.2,63.8 189.7,62.4 192.2,61.7 194.7,62.4 197.2,61.2 199.7,60.5 202.2,59.7 204.7,59.1 207.2,59.2 209.7,57.7 212.2,58.5 214.7,56.2 217.2,56.2 219.7,55.1 222.2,55.4 224.7,55.5 227.2,55.8 229.7,54.2 232.2,54.3 234.7,53.8 237.2,53.3 239.7,52.8 242.2,53.4 244.7,52.0 247.2,52.9 248.7,52.8" stroke="#8e8e8e" stroke-opacity="0.7" stroke-width="1.0"/>
<path d="M107.5,181.2 111.5,181.2 113.8,181.1 115.5,180.9 117.5,180.5 118.7,179.7 119.8,178.2 121.4,173.8 122.9,166.3 124.1,159.0 125.1,150.1 126.1,136.1 127.3,122.2 128.5,113.2 129.6,104.5 130.8,95.7 131.5,92.9 132.2,90.5 132.8,88.9 133.4,87.6 134.5,86.1 135.4,85.1 136.8,83.9 138.4,82.8 140.9,81.4 143.4,80.7 145.9,80.2 148.4,77.9 150.9,77.4 153.4,75.9 155.9,74.3 158.4,73.5 160.9,72.5 163.4,70.9 165.9,71.3 168.4,68.6 170.9,69.4 173.4,68.3 175.9,66.8 178.4,65.5 180.9,65.1 183.4,64.7 185.9,64.1 188.4,63.0 190.9,62.7 193.4,61.0 195.9,60.8 198.4,59.0 200.9,59.9 203.4,59.0 205.9,58.1 208.4,58.6 210.9,57.8 213.4,55.1 215.9,56.5 218.4,55.1 220.9,56.4 223.4,56.9 225.9,54.6 228.4,54.7 230.9,54.2 233.4,54.4 235.9,54.3 238.4,54.5 240.9,52.8 243.4,54.2 245.9,52.4 248.4,52.9 248.7,53.5" stroke="#8e8e8e" stroke-opacity="0.7" stroke-width="1.0"/>
<path d="M113.2,181.2 117.2,181.2 119.5,181.1 121.2,180.9 123.2,180.5 124.4,179.7 125.5,178.2 127.0,173.8 128.5,166.3 129.6,159.0 130.5,150.1 131.4,136.1 132.5,122.2 133.6,113.2 134.6,104.5 135.7,95.7 136.3,92.9 137.0,90.5 137.6,88.8 138.2,87.6 139.2,86.1 140.1,85.1 141.5,83.9 143.1,82.8 145.6,82.4 148.1,80.5 150.6,79.0 153.1,77.4 155.6,76.2 158.1,74.8 160.6,74.1 163.1,73.5 165.6,72.3 168.1,70.5 170.6,70.3 173.1,68.9 175.6,68.7 178.1,68.9 180.6,67.3 183.1,65.8 185.6,64.1 188.1,63.5 190.6,62.5 193.1,63.3 195.6,61.6 198.1,61.4 200.6,60.3 203.1,60.1 205.6,60.3 208.1,58.4 210.6,58.1 213.1,57.3 215.6,57.9 218.1,56.2 220.6,55.7 223.1,55.1 225.6,54.7 228.1,55.6 230.6,56.6 233.1,54.0 235.6,55.0 238.1,54.3 240.6,53.1 243.1,53.4 245.6,53.2 248.1,52.7 248.7,54.4" stroke="#8e8e8e" stroke-opacity="0.7" stroke-width="1.0"/>
<path d="M102.2,181.2 106.2,181.2 108.5,181.1 110.2,180.9 112.2,180.5 113.5,179.7 114.6,178.2 116.2,173.8 117.8,166.3 119.1,158.9 120.3,150.0 121.6,136.0 123.1,122.0 124.5,113.0 125.9,104.3 127.3,95.4 128.0,92.6 128.8,90.2 129.4,88.5 130.1,87.3 131.1,85.8 132.1,84.8 133.5,83.6 135.1,82.5 137.6,82.3 140.1,79.1 142.6,78.0 145.1,77.0 147.6,77.0 150.1,76.4 152.6,74.2 155.1,72.5 157.6,71.7 160.1,71.6 162.6,69.3 165.1,69.9 167.6,68.9 170.1,67.1 172.6,66.6 175.1,65.8 177.6,65.5 180.1,63.0 182.6,63.6 185.1,61.8 187.6,60.8 190.1,60.6 192.6,59.7 195.1,58.6 197.6,57.5 200.1,57.4 202.6,58.4 205.1,58.2 207.6,56.8 210.1,56.7 212.6,55.1 215.1,55.0 217.6,54.8 220.1,53.5 222.6,53.3 225.1,53.6 227.6,53.1 230.1,52.3 232.6,53.0 235.1,52.3 237.6,52.9 240.1,52.0 242.6,51.5 245.1,51.6 247.6,51.2 248.7,50.8" stroke="#8e8e8e" stroke-opacity="0.7" stroke-width="1.0"/>
<path d="M108.6,181.2 112.6,181.2 114.9,181.1 116.6,180.9 118.6,180.5 119.8,179.7 120.9,178.2 122.4,173.8 124.0,166.3 125.1,158.9 126.0,150.0 127.0,135.9 128.2,121.9 129.4,112.9 130.4,104.2 131.6,95.3 132.2,92.5 132.9,90.1 133.5,88.5 134.1,87.2 135.1,85.7 136.0,84.7 137.4,83.5 139.0,82.4 141.5,80.6 144.0,77.4 146.5,78.7 149.0,76.1 151.5,76.3 154.0,75.7 156.5,74.0 159.0,72.6 161.5,71.7 164.0,70.7 166.5,69.4 169.0,68.4 171.5,67.2 174.0,67.7 176.5,66.0 179.0,65.8 181.5,64.2 184.0,63.5 186.5,62.6 189.0,62.2 191.5,61.6 194.0,60.5 196.5,59.2 199.0,58.5 201.5,59.4 204.0,57.6 206.5,57.0 209.0,57.6 211.5,56.9 214.0,56.0 216.5,55.0 219.0,56.3 221.5,54.6 224.0,54.3 226.5,53.5 229.0,52.4 231.5,52.1 234.0,53.0 236.5,52.7 239.0,52.0 241.5,51.1 244.0,50.7 246.5,51.2 248.7,50.3" stroke="#8e8e8e" stroke-opacity="0.7" stroke-width="1.0"/>
<path d="M113.9,181.2 117.9,181.2 120.2,181.1 121.9,180.9 123.9,180.5 125.1,179.7 126.2,178.2 127.7,173.8 129.2,166.3 130.3,158.9 131.2,149.9 132.1,135.9 133.2,121.9 134.3,112.9 135.3,104.1 136.4,95.2 137.0,92.4 137.7,90.0 138.3,88.4 138.9,87.1 139.9,85.6 140.8,84.6 142.2,83.4 143.8,82.3 146.3,81.2 148.8,79.4 151.3,79.0 153.8,77.4 156.3,75.8 158.8,74.7 161.3,73.4 163.8,73.2 166.3,71.5 168.8,70.8 171.3,69.3 173.8,67.6 176.3,68.2 178.8,66.0 181.3,66.3 183.8,65.2 186.3,63.0 188.8,62.7 191.3,62.1 193.8,61.1 196.3,60.1 198.8,60.6 201.3,59.2 203.8,59.0 206.3,57.8 208.8,57.7 211.3,56.4 213.8,56.3 216.3,56.2 218.8,55.4 221.3,54.6 223.8,53.8 226.3,54.1 228.8,53.9 231.3,53.1 233.8,52.4 236.3,53.0 238.8,54.0 241.3,51.9 243.8,52.0 246.3,51.8 248.7,49.6" stroke="#8e8e8e" stroke-opacity="0.7" stroke-width="1.0"/>
<path d="M110.8,181.2 114.8,181.2 117.1,181.1 118.8,180.9 120.8,180.5 122.0,179.7 123.1,178.2 124.6,173.8 126.1,166.3 127.2,159.0 128.1,150.1 129.0,136.1 130.1,122.1 131.2,113.2 132.2,104.5 133.3,95.6 133.9,92.8 134.6,90.4 135.2,88.8 135.8,87.5 136.8,86.0 137.7,85.0 139.1,83.8 140.7,82.8 143.2,80.9 145.7,78.9 148.2,79.1 150.7,77.8 153.2,75.5 155.7,75.9 158.2,74.9 160.7,73.4 163.2,73.4 165.7,72.6 168.2,69.6 170.7,70.1 173.2,68.8 175.7,67.9 178.2,67.3 180.7,65.4 183.2,64.7 185.7,63.7 188.2,62.9 190.7,62.6 193.2,61.0 195.7,60.5 198.2,60.9 200.7,59.8 203.2,59.5 205.7,57.5 208.2,57.6 210.7,57.3 213.2,57.2 215.7,56.3 218.2,56.9 220.7,55.8 223.2,55.5 225.7,55.1 228.2,55.2 230.7,54.1 233.2,54.9 235.7,54.2 238.2,53.8 240.7,53.4 243.2,53.5 245.7,53.6 248.2,53.3 248.7,52.9" stroke="#8e8e8e" stroke-opacity="0.7" stroke-width="1.0"/>
<path d="M113.8,181.2 117.8,181.2 120.1,181.1 121.8,180.9 123.8,180.5 125.0,179.7 126.1,178.2 127.6,173.8 129.1,166.3 130.2,158.9 131.1,150.0 132.0,136.0 133.1,122.0 134.2,113.0 135.2,104.3 136.3,95.4 136.9,92.6 137.6,90.2 138.2,88.6 138.8,87.3 139.8,85.8 140.7,84.8 142.1,83.6 143.7,82.5 146.2,80.8 148.7,81.5 151.2,79.1 153.7,77.4 156.2,77.1 158.7,75.5 161.2,73.7 163.7,73.5 166.2,71.7 168.7,69.9 171.2,71.3 173.7,68.8 176.2,67.7 178.7,67.4 181.2,65.3 183.7,64.6 186.2,64.3 188.7,63.5 191.2,63.0 193.7,62.9 196.2,61.1 198.7,61.0 201.2,60.4 203.7,58.7 206.2,58.9 208.7,57.5 211.2,58.3 213.7,57.4 216.2,56.6 218.7,55.2 221.2,55.7 223.7,54.7 226.2,55.3 228.7,54.4 231.2,53.6 233.7,54.4 236.2,54.0 238.7,52.8 241.2,53.7 243.7,52.5 246.2,52.2 248.7,52.3" stroke="#8e8e8e" stroke-opacity="0.7" stroke-width="1.0"/>
<path d="M107.1,181.2 111.1,181.2 113.4,181.1 115.1,180.9 117.1,180.5 118.3,179.7 119.4,178.2 121.0,173.8 122.5,166.3 123.7,158.9 124.7,150.1 125.7,136.1 127.0,122.1 128.2,113.1 129.4,104.4 130.6,95.6 131.2,92.8 131.9,90.4 132.6,88.7 133.2,87.5 134.2,86.0 135.1,85.0 136.5,83.8 138.1,82.7 140.6,81.1 143.1,80.8 145.6,79.2 148.1,76.9 150.6,76.7 153.1,75.2 155.6,73.7 158.1,73.5 160.6,72.0 163.1,70.2 165.6,69.5 168.1,70.4 170.6,67.4 173.1,67.6 175.6,67.0 178.1,66.2 180.6,64.1 183.1,63.9 185.6,63.4 188.1,63.0 190.6,61.3 193.1,60.3 195.6,61.0 198.1,60.4 200.6,59.3 203.1,58.1 205.6,58.2 208.1,57.5 210.6,57.5 213.1,55.7 215.6,56.1 218.1,55.5 220.6,54.5 223.1,55.0 225.6,54.5 228.1,54.0 230.6,54.2 233.1,52.8 235.6,53.4 238.1,53.4 240.6,53.1 243.1,53.4 245.6,51.7 248.1,51.3 248.7,52.4" stroke="#8e8e8e" stroke-opacity="0.7" stroke-width="1.0"/>
<path d="M112.1,181.2 116.1,181.2 118.4,181.1 120.1,180.9 122.1,180.5 123.3,179.6 124.4,178.2 125.9,173.8 127.4,166.2 128.5,158.8 129.4,149.9 130.3,135.8 131.4,121.7 132.5,112.7 133.5,104.0 134.6,95.0 135.2,92.2 135.9,89.8 136.5,88.1 137.1,86.9 138.1,85.4 139.0,84.4 140.4,83.1 142.0,82.0 144.5,81.3 147.0,79.7 149.5,78.7 152.0,76.2 154.5,76.0 157.0,75.9 159.5,73.0 162.0,72.2 164.5,71.8 167.0,70.8 169.5,69.6 172.0,67.1 174.5,67.6 177.0,65.5 179.5,64.8 182.0,64.8 184.5,63.4 187.0,63.3 189.5,64.0 192.0,61.6 194.5,60.8 197.0,59.0 199.5,58.4 202.0,57.4 204.5,57.1 207.0,56.1 209.5,55.8 212.0,55.6 214.5,54.5 217.0,53.8 219.5,53.3 222.0,54.0 224.5,53.3 227.0,53.6 229.5,53.2 232.0,52.0 234.5,52.3 237.0,50.6 239.5,52.7 242.0,51.7 244.5,50.5 247.0,49.7 248.7,50.5" stroke="#8e8e8e" stroke-opacity="0.7" stroke-width="1.0"/>
<path d="M102.4,181.2 106.4,181.2 108.7,181.1 110.4,180.9 112.4,180.5 113.6,179.7 114.7,178.2 116.3,173.8 118.0,166.3 119.3,159.0 120.4,150.1 121.7,136.1 123.2,122.2 124.7,113.2 126.0,104.5 127.4,95.6 128.1,92.8 128.9,90.4 129.5,88.8 130.2,87.5 131.2,86.1 132.2,85.1 133.6,83.8 135.2,82.8 137.7,81.8 140.2,79.0 142.7,80.1 145.2,78.2 147.7,76.3 150.2,74.8 152.7,73.3 155.2,72.5 157.7,72.7 160.2,71.1 162.7,69.6 165.2,69.1 167.7,69.5 170.2,67.4 172.7,66.4 175.2,66.8 177.7,65.4 180.2,64.3 182.7,63.1 185.2,61.7 187.7,61.2 190.2,60.9 192.7,60.4 195.2,60.1 197.7,59.6 200.2,58.8 202.7,58.3 205.2,57.0 207.7,55.8 210.2,56.4 212.7,55.7 215.2,55.4 217.7,55.3 220.2,54.3 222.7,54.0 225.2,54.4 227.7,54.3 230.2,53.5 232.7,54.0 235.2,53.3 237.7,52.5 240.2,53.0 242.7,54.0 245.2,52.1 247.7,53.1 248.7,53.1" stroke="#8e8e8e" stroke-opacity="0.7" stroke-width="1.0"/>
<path d="M116.3,181.2 120.3,181.2 122.6,181.1 124.3,180.9 126.3,180.5 127.5,179.7 128.6,178.2 130.1,173.8 131.6,166.3 132.7,159.0 133.6,150.1 134.5,136.1 135.6,122.2 136.7,113.2 137.7,104.5 138.8,95.6 139.4,92.9 140.1,90.5 140.7,88.8 141.3,87.6 142.3,86.1 143.2,85.1 144.6,83.9 146.2,82.8 148.7,81.0 151.2,80.8 153.7,79.7 156.2,78.5 158.7,76.2 161.2,75.5 163.7,75.1 166.2,73.0 168.7,71.9 171.2,72.0 173.7,71.5 176.2,68.7 178.7,66.9 181.2,66.7 183.7,66.2 186.2,65.9 188.7,65.6 191.2,64.2 193.7,63.1 196.2,62.9 198.7,61.4 201.2,61.3 203.7,60.2 206.2,61.7 208.7,59.9 211.2,58.2 213.7,57.6 216.2,57.5 218.7,56.2 221.2,56.3 223.7,55.9 226.2,56.5 228.7,55.3 231.2,54.7 233.7,54.0 236.2,53.8 238.7,54.3 241.2,53.9 243.7,54.5 246.2,53.1 248.7,54.0 248.7,53.5" stroke="#b4b4b4" stroke-opacity="0.8" stroke-width="0.8"/>
<path d="M110.3,181.2 114.3,181.2 116.6,181.1 118.3,180.9 120.3,180.5 121.5,179.7 122.6,178.2 124.1,173.8 125.6,166.4 126.7,159.0 127.6,150.2 128.5,136.3 129.6,122.3 130.7,113.4 131.7,104.7 132.8,95.9 133.4,93.1 134.1,90.7 134.7,89.1 135.3,87.8 136.3,86.3 137.2,85.3 138.6,84.2 140.2,83.1 142.7,80.3 145.2,81.4 147.7,78.2 150.2,78.7 152.7,76.5 155.2,75.2 157.7,74.7 160.2,74.0 162.7,73.3 165.2,73.0 167.7,71.1 170.2,70.5 172.7,68.7 175.2,68.7 177.7,67.4 180.2,66.2 182.7,65.7 185.2,64.9 187.7,64.3 190.2,63.6 192.7,62.3 195.2,61.5 197.7,61.8 200.2,59.6 202.7,59.7 205.2,60.5 207.7,57.2 210.2,58.1 212.7,58.5 215.2,56.5 217.7,58.9 220.2,55.1 222.7,57.4 225.2,57.1 227.7,56.4 230.2,55.3 232.7,55.5 235.2,54.4 237.7,55.3 240.2,53.8 242.7,54.1 245.2,54.7 247.7,53.2 248.7,53.6" stroke="#8e8e8e" stroke-opacity="0.7" stroke-width="1.0"/>
<path d="M111.0,181.2 115.0,181.2 117.3,181.1 119.0,180.9 121.0,180.5 122.2,179.7 123.3,178.2 124.8,173.8 126.3,166.4 127.4,159.0 128.3,150.1 129.2,136.2 130.3,122.2 131.4,113.3 132.4,104.6 133.5,95.7 134.1,93.0 134.8,90.6 135.4,88.9 136.0,87.7 137.0,86.2 137.9,85.2 139.3,84.0 140.9,82.9 143.4,82.5 145.9,81.0 148.4,78.7 150.9,77.6 153.4,77.7 155.9,75.9 158.4,74.5 160.9,74.4 163.4,72.4 165.9,71.4 168.4,70.3 170.9,68.4 173.4,69.3 175.9,67.1 178.4,66.7 180.9,65.7 183.4,65.9 185.9,64.5 188.4,63.8 190.9,61.9 193.4,62.2 195.9,60.6 198.4,61.1 200.9,60.5 203.4,59.7 205.9,60.4 208.4,58.9 210.9,58.5 213.4,57.7 215.9,57.0 218.4,57.4 220.9,57.0 223.4,55.1 225.9,56.2 228.4,55.6 230.9,55.6 233.4,55.0 235.9,53.6 238.4,53.4 240.9,55.1 243.4,53.9 245.9,52.6 248.4,53.5 248.7,53.0" stroke="#8e8e8e" stroke-opacity="0.7" stroke-width="1.0"/>
<path d="M102.5,181.2 106.5,181.2 108.8,181.1 110.5,180.9 112.5,180.5 113.7,179.7 114.9,178.2 116.4,173.8 118.1,166.4 119.4,159.0 120.5,150.2 121.8,136.3 123.3,122.4 124.7,113.4 126.1,104.8 127.5,95.9 128.2,93.2 129.0,90.8 129.6,89.1 130.3,87.9 131.3,86.4 132.2,85.4 133.6,84.2 135.2,83.1 137.7,81.0 140.2,80.2 142.7,79.4 145.2,78.7 147.7,77.5 150.2,75.9 152.7,75.5 155.2,73.9 157.7,73.5 160.2,71.0 162.7,69.9 165.2,70.5 167.7,68.2 170.2,68.1 172.7,67.4 175.2,66.3 177.7,65.5 180.2,65.9 182.7,62.6 185.2,64.0 187.7,64.2 190.2,62.1 192.7,61.4 195.2,61.2 197.7,61.4 200.2,58.9 202.7,59.2 205.2,58.5 207.7,58.5 210.2,57.8 212.7,57.8 215.2,56.7 217.7,56.6 220.2,55.8 222.7,55.5 225.2,55.5 227.7,55.3 230.2,54.4 232.7,55.9 235.2,54.6 237.7,53.6 240.2,55.0 242.7,53.6 245.2,54.2 247.7,53.7 248.7,53.8" stroke="#8e8e8e" stroke-opacity="0.7" stroke-width="1.0"/>
<path d="M111.0,181.2 115.0,181.2 117.3,181.1 119.0,180.9 121.0,180.5 122.2,179.7 123.3,178.2 124.8,173.8 126.3,166.3 127.4,158.9 128.3,150.1 129.2,136.1 130.3,122.1 131.4,113.1 132.4,104.5 133.5,95.6 134.1,92.8 134.8,90.4 135.4,88.8 136.0,87.5 137.0,86.0 137.9,85.0 139.3,83.8 140.9,82.7 143.4,81.1 145.9,79.6 148.4,78.8 150.9,78.1 153.4,77.2 155.9,75.4 158.4,75.7 160.9,73.3 163.4,74.4 165.9,72.0 168.4,70.6 170.9,69.0 173.4,66.6 175.9,67.4 178.4,66.8 180.9,67.1 183.4,64.1 185.9,65.4 188.4,63.2 190.9,63.1 193.4,60.2 195.9,61.2 198.4,60.2 200.9,60.2 203.4,59.2 205.9,57.9 208.4,58.7 210.9,58.0 213.4,57.4 215.9,57.3 218.4,56.9 220.9,55.7 223.4,54.5 225.9,54.1 228.4,55.5 230.9,54.8 233.4,54.1 235.9,53.5 238.4,53.6 240.9,53.3 243.4,52.8 245.9,52.4 248.4,54.0 248.7,52.7" stroke="#8e8e8e" stroke-opacity="0.7" stroke-width="1.0"/>
<path d="M107.7,181.2 111.7,181.2 114.0,181.1 115.7,180.9 117.8,180.5 119.0,179.7 120.1,178.2 121.6,173.8 123.1,166.4 124.3,159.0 125.3,150.1 126.3,136.2 127.5,122.2 128.7,113.3 129.8,104.6 131.0,95.7 131.6,93.0 132.3,90.6 133.0,88.9 133.6,87.7 134.6,86.2 135.5,85.2 136.9,84.0 138.5,82.9 141.0,81.9 143.5,81.0 146.0,79.2 148.5,78.3 151.0,76.6 153.5,74.7 156.0,73.9 158.5,74.1 161.0,72.9 163.5,72.6 166.0,70.6 168.5,70.2 171.0,69.6 173.5,68.5 176.0,66.6 178.5,66.0 181.0,65.4 183.5,63.9 186.0,64.0 188.5,63.6 191.0,61.9 193.5,62.8 196.0,60.7 198.5,60.1 201.0,59.5 203.5,58.6 206.0,58.8 208.5,58.0 211.0,58.6 213.5,57.5 216.0,57.0 218.5,56.1 221.0,55.0 223.5,55.5 226.0,54.6 228.5,55.5 231.0,54.6 233.5,55.5 236.0,54.6 238.5,54.4 241.0,53.8 243.5,53.6 246.0,53.7 248.5,53.6 248.7,52.6" stroke="#8e8e8e" stroke-opacity="0.7" stroke-width="1.0"/>
<path d="M112.3,181.2 116.3,181.2 118.6,181.1 120.3,180.9 122.3,180.5 123.5,179.6 124.6,178.2 126.1,173.8 127.6,166.2 128.7,158.8 129.6,149.8 130.5,135.7 131.6,121.7 132.7,112.6 133.7,103.9 134.8,94.9 135.4,92.1 136.1,89.7 136.7,88.0 137.3,86.8 138.3,85.2 139.2,84.2 140.6,83.0 142.2,81.9 144.7,80.4 147.2,78.7 149.7,77.8 152.2,76.1 154.7,75.6 157.2,74.5 159.7,71.9 162.2,72.1 164.7,71.5 167.2,70.1 169.7,68.4 172.2,68.8 174.7,66.5 177.2,65.3 179.7,64.4 182.2,64.2 184.7,64.0 187.2,63.3 189.7,61.8 192.2,60.0 194.7,59.6 197.2,58.7 199.7,58.4 202.2,56.7 204.7,57.2 207.2,56.9 209.7,55.8 212.2,55.7 214.7,54.2 217.2,53.4 219.7,53.4 222.2,54.1 224.7,53.6 227.2,52.2 229.7,52.9 232.2,51.6 234.7,52.4 237.2,51.5 239.7,50.5 242.2,51.1 244.7,49.7 247.2,49.4 248.7,48.9" stroke="#8e8e8e" stroke-opacity="0.7" stroke-width="1.0"/>
<path d="M111.3,181.2 115.3,181.2 117.6,181.1 119.3,180.9 121.3,180.5 122.5,179.7 123.6,178.2 125.1,173.8 126.6,166.3 127.7,158.9 128.6,150.0 129.5,136.0 130.6,122.0 131.7,113.1 132.7,104.4 133.8,95.5 134.4,92.7 135.1,90.3 135.7,88.6 136.3,87.4 137.3,85.9 138.2,84.9 139.6,83.7 141.2,82.6 143.7,82.0 146.2,80.9 148.7,79.0 151.2,76.9 153.7,76.3 156.2,74.8 158.7,75.1 161.2,73.3 163.7,72.4 166.2,70.8 168.7,68.8 171.2,68.6 173.7,67.5 176.2,67.5 178.7,66.5 181.2,65.0 183.7,64.5 186.2,64.9 188.7,62.5 191.2,61.7 193.7,61.4 196.2,60.4 198.7,59.8 201.2,59.8 203.7,60.0 206.2,57.1 208.7,57.7 211.2,57.2 213.7,56.6 216.2,56.1 218.7,55.6 221.2,56.0 223.7,54.7 226.2,54.5 228.7,54.2 231.2,54.0 233.7,53.5 236.2,54.0 238.7,53.1 241.2,53.0 243.7,52.6 246.2,51.7 248.7,51.6" stroke="#8e8e8e" stroke-opacity="0.7" stroke-width="1.0"/>
<path d="M105.9,181.2 109.9,181.2 112.2,181.1 113.9,180.9 115.9,180.5 117.1,179.7 118.2,178.2 119.7,173.8 121.3,166.3 122.5,158.9 123.6,150.0 124.7,136.0 126.0,122.0 127.3,113.0 128.5,104.3 129.7,95.4 130.4,92.6 131.1,90.2 131.8,88.6 132.4,87.3 133.4,85.8 134.3,84.8 135.7,83.6 137.3,82.5 139.8,81.4 142.3,80.0 144.8,79.1 147.3,78.3 149.8,77.0 152.3,75.4 154.8,74.3 157.3,72.3 159.8,71.9 162.3,71.1 164.8,69.7 167.3,69.1 169.8,67.6 172.3,68.2 174.8,67.7 177.3,65.2 179.8,64.9 182.3,63.6 184.8,63.8 187.3,62.4 189.8,61.5 192.3,60.5 194.8,60.1 197.3,58.7 199.8,59.1 202.3,57.6 204.8,57.9 207.3,57.1 209.8,57.2 212.3,56.0 214.8,56.3 217.3,54.6 219.8,55.2 222.3,54.2 224.8,54.2 227.3,53.8 229.8,54.0 232.3,51.8 234.8,53.1 237.3,51.7 239.8,53.2 242.3,50.9 244.8,51.2 247.3,50.6 248.7,52.6" stroke="#8e8e8e" stroke-opacity="0.7" stroke-width="1.0"/>
<path d="M104.9,181.2 108.9,181.2 111.2,181.1 112.9,180.9 114.9,180.5 116.1,179.7 117.2,178.2 118.8,173.8 120.4,166.3 121.6,158.9 122.6,150.0 123.8,136.0 125.2,122.0 126.5,113.0 127.7,104.3 129.1,95.4 129.7,92.6 130.5,90.2 131.1,88.6 131.7,87.3 132.8,85.8 133.7,84.8 135.1,83.6 136.7,82.5 139.2,80.4 141.7,79.6 144.2,79.1 146.7,78.6 149.2,75.7 151.7,74.1 154.2,74.7 156.7,74.0 159.2,71.8 161.7,69.6 164.2,71.0 166.7,68.9 169.2,68.9 171.7,67.2 174.2,66.1 176.7,65.2 179.2,65.6 181.7,64.8 184.2,61.6 186.7,61.6 189.2,62.6 191.7,60.5 194.2,59.1 196.7,59.4 199.2,58.7 201.7,58.1 204.2,57.3 206.7,56.9 209.2,56.3 211.7,56.3 214.2,55.1 216.7,55.0 219.2,54.7 221.7,55.3 224.2,54.3 226.7,53.7 229.2,53.8 231.7,53.5 234.2,53.7 236.7,53.0 239.2,53.6 241.7,53.1 244.2,51.9 246.7,51.5 248.7,52.1" stroke="#8e8e8e" stroke-opacity="0.7" stroke-width="1.0"/>
<path d="M112.4,181.2 116.4,181.2 118.7,181.1 120.4,180.9 122.4,180.5 123.6,179.7 124.7,178.2 126.2,173.8 127.7,166.3 128.8,158.9 129.7,150.0 130.6,136.0 131.7,122.1 132.8,113.1 133.8,104.4 134.9,95.5 135.5,92.7 136.2,90.3 136.8,88.6 137.4,87.4 138.4,85.9 139.3,84.9 140.7,83.7 142.3,82.6 144.8,80.6 147.3,80.0 149.8,78.9 152.3,77.4 154.8,77.0 157.3,76.4 159.8,73.9 162.3,72.9 164.8,70.7 167.3,71.0 169.8,69.8 172.3,67.7 174.8,68.4 177.3,67.7 179.8,66.0 182.3,65.3 184.8,64.1 187.3,64.4 189.8,62.1 192.3,62.1 194.8,62.8 197.3,60.9 199.8,60.5 202.3,59.4 204.8,58.1 207.3,58.3 209.8,58.0 212.3,56.6 214.8,57.0 217.3,57.1 219.8,56.5 222.3,54.4 224.8,54.4 227.3,53.6 229.8,55.0 232.3,54.4 234.8,54.1 237.3,52.8 239.8,52.4 242.3,52.9 244.8,52.7 247.3,51.8 248.7,52.4" stroke="#8e8e8e" stroke-opacity="0.7" stroke-width="1.0"/>
<path d="M112.9,181.2 116.9,181.2 119.2,181.1 120.9,180.9 122.9,180.5 124.1,179.7 125.2,178.2 126.7,173.8 128.2,166.3 129.3,158.9 130.2,150.0 131.1,136.0 132.2,122.0 133.3,113.0 134.3,104.3 135.4,95.4 136.0,92.6 136.7,90.2 137.3,88.6 137.9,87.3 138.9,85.8 139.8,84.8 141.2,83.6 142.8,82.5 145.3,81.3 147.8,80.4 150.3,79.2 152.8,77.5 155.3,76.2 157.8,75.2 160.3,74.5 162.8,73.3 165.3,72.3 167.8,71.1 170.3,69.5 172.8,68.8 175.3,67.5 177.8,67.8 180.3,64.9 182.8,65.3 185.3,66.1 187.8,63.5 190.3,62.2 192.8,62.1 195.3,62.2 197.8,60.5 200.3,60.4 202.8,59.4 205.3,58.4 207.8,60.1 210.3,57.6 212.8,56.7 215.3,56.2 217.8,56.3 220.3,55.9 222.8,55.7 225.3,54.8 227.8,53.4 230.3,54.4 232.8,53.5 235.3,53.2 237.8,52.2 240.3,52.5 242.8,52.1 245.3,52.3 247.8,51.2 248.7,52.1" stroke="#8e8e8e" stroke-opacity="0.7" stroke-width="1.0"/>
<path d="M110.8,181.2 114.8,181.2 117.1,181.1 118.8,180.9 120.8,180.5 122.0,179.7 123.1,178.2 124.6,173.8 126.1,166.4 127.2,159.0 128.1,150.1 129.0,136.2 130.1,122.2 131.2,113.2 132.2,104.6 133.3,95.7 133.9,92.9 134.6,90.5 135.2,88.9 135.8,87.6 136.8,86.1 137.7,85.1 139.1,83.9 140.7,82.9 143.2,81.1 145.7,80.7 148.2,78.7 150.7,78.6 153.2,77.5 155.7,76.2 158.2,74.9 160.7,73.9 163.2,70.8 165.7,72.1 168.2,70.4 170.7,69.6 173.2,68.5 175.7,66.9 178.2,66.6 180.7,66.5 183.2,66.2 185.7,64.1 188.2,63.1 190.7,63.8 193.2,61.6 195.7,62.8 198.2,60.8 200.7,59.6 203.2,60.2 205.7,60.1 208.2,57.5 210.7,58.9 213.2,57.3 215.7,58.0 218.2,56.3 220.7,55.1 223.2,56.1 225.7,56.0 228.2,56.4 230.7,55.9 233.2,55.0 235.7,54.1 238.2,53.7 240.7,53.6 243.2,53.0 245.7,53.1 248.2,51.4 248.7,53.2" stroke="#8e8e8e" stroke-opacity="0.7" stroke-width="1.0"/>
<path d="M110.2,181.2 114.2,181.2 116.5,181.1 118.2,180.9 120.2,180.5 121.4,179.6 122.5,178.2 124.0,173.8 125.5,166.2 126.6,158.8 127.5,149.8 128.4,135.7 129.5,121.7 130.6,112.6 131.6,103.9 132.7,94.9 133.3,92.1 134.0,89.7 134.6,88.0 135.2,86.8 136.2,85.3 137.1,84.3 138.5,83.0 140.1,81.9 142.6,81.6 145.1,79.7 147.6,78.6 150.1,76.2 152.6,75.1 155.1,74.8 157.6,74.2 160.1,73.1 162.6,72.6 165.1,70.3 167.6,69.2 170.1,68.7 172.6,67.1 175.1,66.1 177.6,64.5 180.1,64.9 182.6,62.7 185.1,62.9 187.6,60.8 190.1,61.6 192.6,59.4 195.1,59.8 197.6,57.5 200.1,57.6 202.6,58.0 205.1,56.1 207.6,56.0 210.1,55.1 212.6,53.4 215.1,54.6 217.6,54.2 220.1,52.7 222.6,53.4 225.1,52.1 227.6,51.5 230.1,51.8 232.6,51.1 235.1,52.7 237.6,49.9 240.1,51.1 242.6,51.0 245.1,48.8 247.6,48.6 248.7,50.0" stroke="#8e8e8e" stroke-opacity="0.7" stroke-width="1.0"/>
<path d="M108.3,181.2 112.3,181.2 114.6,181.1 116.3,180.9 118.3,180.5 119.5,179.7 120.6,178.2 122.1,173.8 123.6,166.3 124.8,158.9 125.7,150.0 126.7,136.0 127.9,122.0 129.1,113.0 130.2,104.3 131.3,95.4 132.0,92.6 132.7,90.2 133.3,88.5 133.9,87.3 134.9,85.8 135.8,84.8 137.2,83.6 138.8,82.5 141.3,80.7 143.8,79.9 146.3,79.3 148.8,77.3 151.3,76.1 153.8,74.6 156.3,74.4 158.8,72.7 161.3,71.5 163.8,70.4 166.3,70.3 168.8,68.6 171.3,66.9 173.8,67.5 176.3,65.8 178.8,65.6 181.3,64.8 183.8,64.5 186.3,63.5 188.8,61.7 191.3,61.2 193.8,59.7 196.3,61.0 198.8,59.5 201.3,59.5 203.8,57.8 206.3,56.1 208.8,57.9 211.3,56.5 213.8,56.0 216.3,55.5 218.8,55.5 221.3,55.0 223.8,53.2 226.3,54.6 228.8,53.2 231.3,53.0 233.8,54.1 236.3,53.3 238.8,52.3 241.3,51.0 243.8,52.1 246.3,52.1 248.7,51.5" stroke="#8e8e8e" stroke-opacity="0.7" stroke-width="1.0"/>
<path d="M105.0,181.2 109.0,181.2 111.3,181.1 113.0,180.9 115.0,180.5 116.3,179.7 117.4,178.2 118.9,173.8 120.5,166.3 121.7,159.0 122.8,150.1 124.0,136.1 125.3,122.2 126.6,113.2 127.9,104.5 129.2,95.6 129.8,92.8 130.6,90.4 131.2,88.8 131.9,87.5 132.9,86.1 133.8,85.1 135.2,83.8 136.8,82.8 139.3,80.9 141.8,80.8 144.3,78.4 146.8,76.7 149.3,76.0 151.8,74.4 154.3,73.5 156.8,74.1 159.3,72.2 161.8,71.5 164.3,71.1 166.8,70.2 169.3,68.2 171.8,68.5 174.3,67.0 176.8,65.9 179.3,65.4 181.8,63.3 184.3,63.0 186.8,62.6 189.3,62.3 191.8,61.0 194.3,60.5 196.8,60.5 199.3,60.2 201.8,59.2 204.3,59.0 206.8,57.4 209.3,57.0 211.8,56.9 214.3,56.1 216.8,55.6 219.3,56.6 221.8,55.0 224.3,54.2 226.8,54.8 229.3,55.4 231.8,54.0 234.3,54.5 236.8,53.2 239.3,52.9 241.8,52.5 244.3,52.7 246.8,53.7 248.7,51.7" stroke="#8e8e8e" stroke-opacity="0.7" stroke-width="1.0"/>
<path d="M116.8,181.2 120.8,181.2 123.1,181.1 124.8,180.9 126.8,180.5 128.0,179.7 129.1,178.2 130.6,173.8 132.1,166.3 133.2,159.0 134.1,150.1 135.0,136.1 136.1,122.2 137.2,113.2 138.2,104.5 139.3,95.7 139.9,92.9 140.6,90.5 141.2,88.9 141.8,87.6 142.8,86.1 143.7,85.1 145.1,83.9 146.7,82.9 149.2,82.1 151.7,79.8 154.2,79.7 156.7,77.5 159.2,77.7 161.7,76.4 164.2,74.2 166.7,73.4 169.2,72.0 171.7,71.6 174.2,71.3 176.7,68.6 179.2,69.3 181.7,66.9 184.2,66.4 186.7,64.9 189.2,66.6 191.7,64.5 194.2,63.8 196.7,62.4 199.2,62.8 201.7,60.0 204.2,60.8 206.7,61.5 209.2,59.2 211.7,58.9 214.2,58.8 216.7,57.3 219.2,57.4 221.7,57.6 224.2,56.6 226.7,56.3 229.2,55.5 231.7,55.6 234.2,55.1 236.7,55.7 239.2,54.9 241.7,54.0 244.2,52.4 246.7,54.2 248.7,54.0" stroke="#b4b4b4" stroke-opacity="0.8" stroke-width="0.8"/>
<path d="M106.4,181.2 110.4,181.2 112.7,181.1 114.4,180.9 116.4,180.5 117.6,179.7 118.8,178.2 120.3,173.8 121.9,166.4 123.0,159.0 124.1,150.2 125.2,136.3 126.4,122.3 127.7,113.4 128.9,104.7 130.1,95.9 130.8,93.1 131.5,90.7 132.1,89.1 132.7,87.8 133.8,86.3 134.7,85.3 136.1,84.1 137.7,83.1 140.2,80.9 142.7,80.2 145.2,80.1 147.7,78.1 150.2,76.5 152.7,75.0 155.2,75.2 157.7,74.5 160.2,73.7 162.7,71.9 165.2,71.5 167.7,69.3 170.2,69.1 172.7,67.7 175.2,67.4 177.7,67.0 180.2,66.4 182.7,64.2 185.2,64.9 187.7,63.0 190.2,62.0 192.7,61.8 195.2,60.3 197.7,60.6 200.2,60.2 202.7,59.4 205.2,59.3 207.7,58.3 210.2,58.0 212.7,56.6 215.2,57.2 217.7,56.2 220.2,56.1 222.7,56.0 225.2,55.8 227.7,54.4 230.2,54.2 232.7,54.7 235.2,55.0 237.7,54.7 240.2,54.8 242.7,54.9 245.2,54.2 247.7,53.6 248.7,52.9" stroke="#8e8e8e" stroke-opacity="0.7" stroke-width="1.0"/>
<path d="M106.3,181.2 110.3,181.2 112.6,181.1 114.3,180.9 116.3,180.5 117.5,179.7 118.6,178.2 120.2,173.8 121.8,166.3 122.9,158.9 124.0,150.1 125.1,136.1 126.3,122.1 127.6,113.1 128.8,104.4 130.0,95.6 130.7,92.8 131.4,90.4 132.0,88.7 132.7,87.5 133.7,86.0 134.6,85.0 136.0,83.8 137.6,82.7 140.1,81.4 142.6,80.8 145.1,78.9 147.6,77.5 150.1,76.6 152.6,75.9 155.1,74.5 157.6,73.7 160.1,70.9 162.6,72.0 165.1,71.8 167.6,70.2 170.1,68.2 172.6,66.9 175.1,66.8 177.6,65.1 180.1,65.4 182.6,63.8 185.1,63.9 187.6,63.4 190.1,60.4 192.6,61.2 195.1,59.9 197.6,58.8 200.1,58.7 202.6,58.4 205.1,58.6 207.6,56.5 210.1,57.7 212.6,57.8 215.1,56.5 217.6,56.0 220.1,55.2 222.6,54.1 225.1,54.9 227.6,54.5 230.1,54.4 232.6,55.4 235.1,53.9 237.6,53.5 240.1,54.0 242.6,51.8 245.1,51.7 247.6,52.0 248.7,51.8" stroke="#8e8e8e" stroke-opacity="0.7" stroke-width="1.0"/>
<path d="M113.1,181.2 117.1,181.2 119.4,181.1 121.1,180.9 123.1,180.5 124.3,179.7 125.4,178.2 126.9,173.8 128.4,166.3 129.5,158.9 130.4,150.0 131.3,136.1 132.4,122.1 133.5,113.1 134.5,104.4 135.6,95.5 136.2,92.7 136.9,90.3 137.5,88.7 138.1,87.4 139.1,86.0 140.0,84.9 141.4,83.7 143.0,82.7 145.5,82.2 148.0,80.4 150.5,79.4 153.0,78.9 155.5,76.7 158.0,76.2 160.5,73.3 163.0,73.8 165.5,72.1 168.0,71.1 170.5,70.2 173.0,69.5 175.5,69.4 178.0,66.2 180.5,66.6 183.0,65.2 185.5,65.6 188.0,63.8 190.5,63.5 193.0,62.2 195.5,62.1 198.0,61.6 200.5,60.0 203.0,59.7 205.5,58.1 208.0,58.6 210.5,58.4 213.0,57.0 215.5,57.6 218.0,55.1 220.5,54.8 223.0,54.7 225.5,54.8 228.0,54.8 230.5,54.4 233.0,54.1 235.5,54.3 238.0,53.3 240.5,52.5 243.0,52.3 245.5,54.2 248.0,51.1 248.7,52.4" stroke="#8e8e8e" stroke-opacity="0.7" stroke-width="1.0"/>
<path d="M116.1,181.2 120.1,181.2 122.4,181.1 124.1,180.9 126.1,180.5 127.3,179.7 128.4,178.2 129.9,173.8 131.4,166.3 132.5,158.9 133.4,150.0 134.3,136.0 135.4,122.0 136.5,113.0 137.5,104.3 138.6,95.4 139.2,92.6 139.9,90.2 140.5,88.5 141.1,87.3 142.1,85.8 143.0,84.7 144.4,83.5 146.0,82.4 148.5,80.0 151.0,80.2 153.5,78.4 156.0,77.7 158.5,75.5 161.0,74.8 163.5,74.6 166.0,72.8 168.5,72.3 171.0,71.2 173.5,69.6 176.0,67.9 178.5,68.6 181.0,67.2 183.5,66.8 186.0,64.0 188.5,63.4 191.0,62.2 193.5,62.2 196.0,62.7 198.5,61.6 201.0,60.5 203.5,59.9 206.0,59.6 208.5,58.3 211.0,58.2 213.5,57.4 216.0,55.4 218.5,56.1 221.0,56.7 223.5,55.1 226.0,54.9 228.5,54.1 231.0,53.8 233.5,54.5 236.0,53.3 238.5,52.5 241.0,50.9 243.5,52.3 246.0,51.1 248.5,50.9 248.7,52.6" stroke="#b4b4b4" stroke-opacity="0.8" stroke-width="0.8"/>
<path d="M113.1,181.2 117.1,181.2 119.4,181.1 121.1,180.9 123.1,180.5 124.3,179.7 125.4,178.2 126.9,173.8 128.4,166.4 129.5,159.0 130.4,150.2 131.3,136.2 132.4,122.3 133.5,113.4 134.5,104.7 135.6,95.9 136.2,93.1 136.9,90.7 137.5,89.1 138.1,87.8 139.1,86.3 140.0,85.3 141.4,84.2 143.0,83.1 145.5,82.6 148.0,80.1 150.5,78.9 153.0,77.5 155.5,77.3 158.0,76.2 160.5,74.7 163.0,73.9 165.5,73.7 168.0,72.4 170.5,70.0 173.0,69.9 175.5,69.1 178.0,68.6 180.5,67.2 183.0,66.1 185.5,65.4 188.0,63.7 190.5,64.1 193.0,62.9 195.5,62.9 198.0,61.2 200.5,61.0 203.0,60.0 205.5,59.3 208.0,59.9 210.5,58.6 213.0,58.7 215.5,57.3 218.0,57.6 220.5,56.0 223.0,56.4 225.5,56.0 228.0,56.4 230.5,55.8 233.0,55.3 235.5,55.7 238.0,55.0 240.5,55.0 243.0,54.9 245.5,54.2 248.0,53.8 248.7,54.2" stroke="#8e8e8e" stroke-opacity="0.7" stroke-width="1.0"/>
<path d="M108.4,181.2 112.4,181.2 114.7,181.1 116.4,180.9 118.4,180.5 119.6,179.7 120.7,178.2 122.2,173.8 123.7,166.3 124.9,158.9 125.8,150.0 126.8,136.0 128.0,122.0 129.2,113.0 130.2,104.3 131.4,95.4 132.0,92.6 132.7,90.2 133.4,88.5 134.0,87.3 135.0,85.8 135.9,84.8 137.3,83.6 138.9,82.5 141.4,82.0 143.9,80.1 146.4,77.6 148.9,76.8 151.4,75.2 153.9,74.5 156.4,74.3 158.9,73.2 161.4,71.5 163.9,71.1 166.4,69.4 168.9,68.0 171.4,67.1 173.9,66.5 176.4,67.1 178.9,64.5 181.4,65.3 183.9,64.5 186.4,62.7 188.9,62.0 191.4,60.9 193.9,60.5 196.4,60.3 198.9,59.2 201.4,59.2 203.9,58.7 206.4,57.6 208.9,57.1 211.4,56.4 213.9,56.1 216.4,54.7 218.9,55.3 221.4,54.8 223.9,53.7 226.4,55.3 228.9,52.9 231.4,52.7 233.9,53.2 236.4,51.5 238.9,52.0 241.4,51.2 243.9,51.3 246.4,51.6 248.7,51.7" stroke="#8e8e8e" stroke-opacity="0.7" stroke-width="1.0"/>
<path d="M114.5,181.2 118.5,181.2 120.8,181.1 122.5,180.9 124.5,180.5 125.7,179.7 126.8,178.2 128.3,173.8 129.8,166.3 130.9,158.9 131.8,150.0 132.7,135.9 133.8,121.9 134.9,112.9 135.9,104.2 137.0,95.3 137.6,92.5 138.3,90.1 138.9,88.5 139.5,87.2 140.5,85.7 141.4,84.7 142.8,83.5 144.4,82.4 146.9,79.7 149.4,79.5 151.9,78.9 154.4,77.5 156.9,76.8 159.4,74.1 161.9,74.2 164.4,72.4 166.9,71.9 169.4,71.0 171.9,70.2 174.4,68.4 176.9,67.9 179.4,66.1 181.9,65.1 184.4,65.5 186.9,64.2 189.4,62.4 191.9,62.1 194.4,61.8 196.9,62.1 199.4,61.0 201.9,60.1 204.4,57.8 206.9,58.2 209.4,58.0 211.9,57.4 214.4,56.9 216.9,55.9 219.4,56.8 221.9,56.1 224.4,54.7 226.9,53.7 229.4,55.2 231.9,53.2 234.4,54.0 236.9,54.2 239.4,52.0 241.9,52.6 244.4,51.9 246.9,52.2 248.7,51.9" stroke="#8e8e8e" stroke-opacity="0.7" stroke-width="1.0"/>
<path d="M117.8,181.2 121.8,181.2 124.1,181.1 125.8,180.9 127.8,180.5 129.0,179.7 130.1,178.2 131.6,173.8 133.1,166.3 134.2,158.9 135.1,150.0 136.0,136.0 137.1,122.0 138.2,113.0 139.2,104.3 140.3,95.3 140.9,92.6 141.6,90.1 142.2,88.5 142.8,87.2 143.8,85.7 144.7,84.7 146.1,83.5 147.7,82.4 150.2,80.9 152.7,79.8 155.2,78.6 157.7,77.0 160.2,75.2 162.7,75.4 165.2,73.0 167.7,72.1 170.2,71.6 172.7,70.4 175.2,70.0 177.7,69.5 180.2,68.1 182.7,67.1 185.2,66.1 187.7,65.8 190.2,63.2 192.7,63.8 195.2,62.1 197.7,61.1 200.2,61.2 202.7,60.2 205.2,60.1 207.7,59.8 210.2,56.9 212.7,57.8 215.2,58.5 217.7,57.3 220.2,57.2 222.7,55.8 225.2,54.4 227.7,54.2 230.2,54.9 232.7,54.7 235.2,53.3 237.7,53.2 240.2,53.3 242.7,51.7 245.2,52.3 247.7,53.3 248.7,53.6" stroke="#b4b4b4" stroke-opacity="0.8" stroke-width="0.8"/>
<path d="M109.6,181.2 113.6,181.2 115.9,181.1 117.6,180.9 119.6,180.5 120.8,179.7 121.9,178.2 123.4,173.8 124.9,166.2 126.0,158.8 126.9,149.9 127.9,135.8 129.0,121.8 130.1,112.8 131.1,104.0 132.2,95.1 132.8,92.3 133.5,89.9 134.2,88.2 134.8,87.0 135.8,85.5 136.7,84.4 138.1,83.2 139.7,82.1 142.2,79.0 144.7,79.0 147.2,78.9 149.7,77.2 152.2,75.2 154.7,74.8 157.2,72.2 159.7,72.2 162.2,71.7 164.7,70.8 167.2,68.8 169.7,68.9 172.2,68.6 174.7,66.2 177.2,66.0 179.7,63.6 182.2,62.5 184.7,63.3 187.2,62.1 189.7,61.4 192.2,60.1 194.7,59.5 197.2,59.5 199.7,59.4 202.2,57.5 204.7,56.0 207.2,57.3 209.7,56.3 212.2,55.9 214.7,55.0 217.2,56.0 219.7,54.0 222.2,53.9 224.7,51.9 227.2,52.4 229.7,52.0 232.2,52.1 234.7,52.1 237.2,51.1 239.7,52.4 242.2,50.3 244.7,50.4 247.2,50.6 248.7,49.5" stroke="#8e8e8e" stroke-opacity="0.7" stroke-width="1.0"/>
<path d="M112.4,181.2 116.4,181.2 118.7,181.1 120.4,180.9 122.4,180.5 123.6,179.7 124.7,178.2 126.2,173.8 127.7,166.3 128.8,158.9 129.7,150.0 130.6,136.0 131.7,122.0 132.8,113.0 133.8,104.2 134.9,95.3 135.5,92.5 136.2,90.1 136.8,88.5 137.4,87.2 138.4,85.7 139.3,84.7 140.7,83.5 142.3,82.4 144.8,81.8 147.3,79.7 149.8,78.5 152.3,77.8 154.8,76.4 157.3,74.8 159.8,73.9 162.3,72.5 164.8,72.3 167.3,71.4 169.8,69.8 172.3,70.0 174.8,66.9 177.3,66.8 179.8,67.2 182.3,64.9 184.8,63.3 187.3,64.5 189.8,63.1 192.3,61.1 194.8,61.7 197.3,59.7 199.8,58.8 202.3,58.9 204.8,58.1 207.3,57.1 209.8,57.0 212.3,56.1 214.8,56.3 217.3,55.7 219.8,55.8 222.3,54.6 224.8,53.6 227.3,53.2 229.8,53.5 232.3,54.4 234.8,53.6 237.3,52.4 239.8,53.1 242.3,51.5 244.8,52.7 247.3,51.5 248.7,52.1" stroke="#8e8e8e" stroke-opacity="0.7" stroke-width="1.0"/>
<path d="M112.6,181.2 116.6,181.2 118.9,181.1 120.6,180.9 122.6,180.5 123.8,179.7 124.9,178.2 126.4,173.8 127.9,166.3 129.0,158.9 129.9,150.0 130.8,136.1 131.9,122.1 133.0,113.1 134.0,104.4 135.1,95.5 135.7,92.7 136.4,90.3 137.0,88.7 137.6,87.4 138.6,86.0 139.5,85.0 140.9,83.7 142.5,82.7 145.0,81.5 147.5,79.1 150.0,78.9 152.5,78.6 155.0,77.3 157.5,75.0 160.0,74.0 162.5,74.1 165.0,73.4 167.5,70.2 170.0,69.9 172.5,69.4 175.0,69.1 177.5,66.9 180.0,66.9 182.5,65.5 185.0,66.4 187.5,64.3 190.0,63.1 192.5,62.2 195.0,62.4 197.5,61.4 200.0,59.6 202.5,59.8 205.0,58.1 207.5,57.9 210.0,57.0 212.5,56.5 215.0,56.4 217.5,55.8 220.0,56.3 222.5,56.1 225.0,55.0 227.5,54.0 230.0,54.9 232.5,52.8 235.0,52.6 237.5,54.0 240.0,53.7 242.5,53.7 245.0,52.7 247.5,51.8 248.7,52.1" stroke="#8e8e8e" stroke-opacity="0.7" stroke-width="1.0"/>
<path d="M112.4,181.2 116.4,181.2 118.7,181.1 120.4,180.9 122.4,180.5 123.6,179.7 124.7,178.2 126.2,173.8 127.7,166.3 128.8,159.0 129.7,150.1 130.6,136.1 131.7,122.2 132.8,113.2 133.8,104.5 134.9,95.6 135.5,92.8 136.2,90.4 136.8,88.8 137.4,87.6 138.4,86.1 139.3,85.1 140.7,83.9 142.3,82.8 144.8,81.0 147.3,80.1 149.8,79.0 152.3,76.9 154.8,76.0 157.3,76.1 159.8,73.4 162.3,74.0 164.8,72.6 167.3,71.3 169.8,70.7 172.3,69.7 174.8,69.3 177.3,67.4 179.8,66.6 182.3,65.8 184.8,66.3 187.3,64.9 189.8,62.9 192.3,62.5 194.8,61.5 197.3,61.3 199.8,60.7 202.3,61.4 204.8,58.1 207.3,59.4 209.8,58.5 212.3,57.2 214.8,57.1 217.3,56.4 219.8,56.4 222.3,56.6 224.8,54.5 227.3,56.0 229.8,54.6 232.3,55.5 234.8,54.5 237.3,54.8 239.8,54.1 242.3,54.2 244.8,53.3 247.3,52.5 248.7,53.3" stroke="#8e8e8e" stroke-opacity="0.7" stroke-width="1.0"/>
<path d="M113.0,181.2 117.0,181.2 119.3,181.1 121.0,180.9 123.0,180.5 124.2,179.6 125.3,178.2 126.8,173.8 128.3,166.2 129.4,158.8 130.3,149.9 131.2,135.8 132.3,121.7 133.4,112.7 134.4,104.0 135.5,95.0 136.1,92.2 136.8,89.8 137.4,88.2 138.0,86.9 139.0,85.4 139.9,84.4 141.3,83.1 142.9,82.0 145.4,80.1 147.9,80.4 150.4,77.8 152.9,77.4 155.4,75.5 157.9,73.7 160.4,74.3 162.9,70.7 165.4,70.7 167.9,70.5 170.4,69.0 172.9,68.7 175.4,67.2 177.9,66.0 180.4,66.8 182.9,64.4 185.4,63.5 187.9,62.1 190.4,61.4 192.9,61.5 195.4,60.7 197.9,59.5 200.4,58.4 202.9,58.6 205.4,56.4 207.9,56.6 210.4,56.1 212.9,55.2 215.4,55.3 217.9,54.3 220.4,53.7 222.9,54.9 225.4,53.8 227.9,53.7 230.4,52.6 232.9,52.8 235.4,52.4 237.9,52.4 240.4,52.8 242.9,50.8 245.4,50.9 247.9,50.4 248.7,48.1" stroke="#8e8e8e" stroke-opacity="0.7" stroke-width="1.0"/>
<path d="M104.4,181.2 108.4,181.2 110.7,181.1 112.4,180.9 114.4,180.5 115.6,179.7 116.7,178.2 118.3,173.8 119.9,166.3 121.1,158.9 122.2,150.0 123.4,136.0 124.8,122.0 126.1,113.0 127.4,104.4 128.7,95.5 129.4,92.7 130.2,90.3 130.8,88.6 131.4,87.4 132.5,85.9 133.4,84.9 134.8,83.7 136.4,82.6 138.9,80.8 141.4,80.7 143.9,79.3 146.4,77.6 148.9,76.2 151.4,75.5 153.9,74.7 156.4,73.6 158.9,71.9 161.4,71.3 163.9,70.6 166.4,69.6 168.9,66.2 171.4,66.7 173.9,65.9 176.4,65.4 178.9,64.8 181.4,64.5 183.9,63.5 186.4,62.2 188.9,61.5 191.4,61.9 193.9,59.7 196.4,59.6 198.9,59.8 201.4,58.4 203.9,56.3 206.4,57.4 208.9,56.4 211.4,56.1 213.9,56.4 216.4,55.6 218.9,54.7 221.4,55.1 223.9,54.5 226.4,53.9 228.9,53.8 231.4,53.5 233.9,52.8 236.4,52.5 238.9,52.6 241.4,51.7 243.9,51.2 246.4,52.7 248.7,51.5" stroke="#8e8e8e" stroke-opacity="0.7" stroke-width="1.0"/>
<path d="M110.2,181.2 114.2,181.2 116.5,181.1 118.2,180.9 120.2,180.5 121.4,179.7 122.5,178.2 124.0,173.8 125.5,166.3 126.6,158.9 127.5,150.0 128.4,136.0 129.5,122.1 130.6,113.1 131.6,104.4 132.7,95.5 133.3,92.7 134.0,90.3 134.6,88.7 135.2,87.4 136.2,85.9 137.1,84.9 138.5,83.7 140.1,82.6 142.6,79.7 145.1,81.0 147.6,78.8 150.1,77.2 152.6,75.9 155.1,74.5 157.6,75.1 160.1,73.1 162.6,73.3 165.1,71.0 167.6,68.6 170.1,69.7 172.6,68.0 175.1,67.2 177.6,67.5 180.1,65.4 182.6,65.5 185.1,63.9 187.6,62.6 190.1,62.7 192.6,61.2 195.1,61.7 197.6,60.8 200.1,59.6 202.6,59.3 205.1,58.7 207.6,57.6 210.1,57.8 212.6,56.6 215.1,56.7 217.6,55.2 220.1,55.5 222.6,55.3 225.1,54.1 227.6,54.0 230.1,53.6 232.6,54.2 235.1,53.0 237.6,53.5 240.1,53.9 242.6,52.9 245.1,51.4 247.6,52.3 248.7,52.8" stroke="#8e8e8e" stroke-opacity="0.7" stroke-width="1.0"/>
<path d="M109.1,181.2 113.1,181.2 115.4,181.1 117.1,180.9 119.1,180.5 120.3,179.7 121.4,178.2 122.9,173.8 124.5,166.3 125.6,158.9 126.5,149.9 127.5,135.9 128.6,121.9 129.7,112.9 130.8,104.1 131.9,95.2 132.5,92.4 133.2,90.0 133.8,88.4 134.4,87.1 135.5,85.6 136.4,84.6 137.8,83.4 139.4,82.3 141.9,80.6 144.4,79.5 146.9,78.6 149.4,77.1 151.9,76.0 154.4,75.8 156.9,73.9 159.4,73.2 161.9,72.4 164.4,70.0 166.9,70.7 169.4,69.1 171.9,68.3 174.4,66.2 176.9,66.4 179.4,65.3 181.9,63.8 184.4,64.8 186.9,62.8 189.4,61.5 191.9,61.0 194.4,60.7 196.9,60.2 199.4,59.1 201.9,58.9 204.4,58.5 206.9,56.2 209.4,56.1 211.9,55.3 214.4,55.5 216.9,55.9 219.4,54.9 221.9,53.4 224.4,53.5 226.9,54.0 229.4,52.7 231.9,52.6 234.4,52.6 236.9,51.0 239.4,52.4 241.9,51.8 244.4,51.7 246.9,50.5 248.7,50.4" stroke="#8e8e8e" stroke-opacity="0.7" stroke-width="1.0"/>
<path d="M107.9,181.2 111.9,181.2 114.2,181.1 115.9,180.9 117.9,180.5 119.1,179.7 120.2,178.2 121.7,173.8 123.3,166.3 124.4,158.9 125.4,150.0 126.4,136.0 127.6,122.0 128.8,113.0 129.9,104.3 131.1,95.4 131.7,92.6 132.4,90.2 133.0,88.6 133.7,87.3 134.7,85.8 135.6,84.8 137.0,83.6 138.6,82.5 141.1,81.5 143.6,79.0 146.1,79.2 148.6,78.3 151.1,75.7 153.6,75.3 156.1,73.3 158.6,73.3 161.1,72.1 163.6,71.1 166.1,70.9 168.6,69.3 171.1,68.9 173.6,67.6 176.1,65.5 178.6,65.6 181.1,64.9 183.6,62.8 186.1,63.8 188.6,62.2 191.1,61.6 193.6,60.1 196.1,60.0 198.6,59.5 201.1,58.4 203.6,58.1 206.1,56.1 208.6,57.9 211.1,55.8 213.6,54.6 216.1,54.9 218.6,54.6 221.1,55.1 223.6,53.7 226.1,54.2 228.6,53.1 231.1,54.8 233.6,53.5 236.1,54.1 238.6,51.9 241.1,52.8 243.6,51.5 246.1,52.2 248.6,52.1 248.7,50.6" stroke="#8e8e8e" stroke-opacity="0.7" stroke-width="1.0"/>
<path d="M105.6,181.2 109.6,181.2 111.9,181.1 113.6,180.9 115.6,180.5 116.8,179.7 117.9,178.2 119.5,173.8 121.0,166.4 122.2,159.0 123.3,150.1 124.4,136.2 125.8,122.2 127.1,113.2 128.3,104.6 129.5,95.7 130.2,92.9 130.9,90.5 131.6,88.9 132.2,87.6 133.2,86.1 134.1,85.1 135.5,83.9 137.1,82.8 139.6,81.3 142.1,79.3 144.6,78.8 147.1,76.6 149.6,78.2 152.1,76.6 154.6,75.3 157.1,73.7 159.6,73.2 162.1,72.3 164.6,71.2 167.1,70.2 169.6,68.1 172.1,68.1 174.6,66.6 177.1,65.3 179.6,64.5 182.1,64.7 184.6,64.3 187.1,62.0 189.6,63.3 192.1,62.4 194.6,60.5 197.1,59.8 199.6,59.5 202.1,59.6 204.6,58.2 207.1,57.2 209.6,57.7 212.1,55.6 214.6,56.7 217.1,56.9 219.6,56.0 222.1,55.9 224.6,55.4 227.1,55.2 229.6,54.6 232.1,53.7 234.6,53.9 237.1,53.7 239.6,54.3 242.1,54.4 244.6,53.4 247.1,52.4 248.7,52.3" stroke="#8e8e8e" stroke-opacity="0.7" stroke-width="1.0"/>
<path d="M109.5,181.2 113.5,181.2 115.8,181.1 117.5,180.9 119.5,180.5 120.7,179.7 121.8,178.2 123.3,173.8 124.8,166.3 126.0,158.8 126.9,149.9 127.8,135.9 128.9,121.8 130.0,112.8 131.1,104.1 132.2,95.2 132.8,92.4 133.5,90.0 134.1,88.3 134.7,87.0 135.7,85.5 136.6,84.5 138.0,83.3 139.6,82.2 142.1,80.9 144.6,79.0 147.1,78.5 149.6,78.1 152.1,74.8 154.6,74.9 157.1,73.6 159.6,71.4 162.1,72.0 164.6,70.5 167.1,69.2 169.6,68.0 172.1,69.7 174.6,66.4 177.1,64.6 179.6,64.3 182.1,63.8 184.6,62.9 187.1,62.3 189.6,60.8 192.1,61.1 194.6,59.7 197.1,58.4 199.6,58.1 202.1,57.7 204.6,57.9 207.1,57.1 209.6,56.0 212.1,55.7 214.6,55.4 217.1,56.1 219.6,53.9 222.1,54.2 224.6,53.9 227.1,52.5 229.6,52.9 232.1,52.6 234.6,51.9 237.1,52.3 239.6,52.3 242.1,52.1 244.6,51.0 247.1,51.0 248.7,52.2" stroke="#8e8e8e" stroke-opacity="0.7" stroke-width="1.0"/>
<path d="M105.6,181.2 109.6,181.2 111.9,181.1 113.6,180.9 115.6,180.5 116.9,179.7 118.0,178.2 119.5,173.8 121.1,166.3 122.3,158.9 123.4,150.0 124.5,136.0 125.8,122.0 127.1,113.0 128.3,104.3 129.6,95.4 130.2,92.6 131.0,90.2 131.6,88.6 132.2,87.3 133.3,85.8 134.2,84.8 135.6,83.6 137.2,82.5 139.7,81.0 142.2,79.4 144.7,79.0 147.2,77.2 149.7,77.0 152.2,75.9 154.7,73.2 157.2,72.7 159.7,71.8 162.2,70.2 164.7,69.3 167.2,69.1 169.7,67.9 172.2,66.1 174.7,65.9 177.2,65.8 179.7,63.8 182.2,63.2 184.7,64.0 187.2,63.0 189.7,60.3 192.2,59.8 194.7,60.2 197.2,58.5 199.7,58.5 202.2,57.8 204.7,57.9 207.2,55.4 209.7,55.1 212.2,55.2 214.7,56.3 217.2,55.1 219.7,53.6 222.2,54.7 224.7,54.5 227.2,53.5 229.7,53.2 232.2,53.4 234.7,53.7 237.2,52.7 239.7,52.7 242.2,52.1 244.7,51.6 247.2,51.1 248.7,51.7" stroke="#8e8e8e" stroke-opacity="0.7" stroke-width="1.0"/>
<path d="M109.0,181.2 113.0,181.2 115.3,181.1 117.0,180.9 119.0,180.5 120.2,179.7 121.4,178.2 122.9,173.8 124.4,166.3 125.5,158.9 126.4,150.0 127.4,136.1 128.5,122.1 129.7,113.1 130.7,104.4 131.9,95.5 132.5,92.7 133.2,90.3 133.8,88.7 134.4,87.4 135.4,85.9 136.3,84.9 137.7,83.7 139.3,82.6 141.8,80.1 144.3,80.2 146.8,79.5 149.3,77.5 151.8,77.2 154.3,75.3 156.8,75.2 159.3,73.4 161.8,71.5 164.3,70.8 166.8,69.2 169.3,68.1 171.8,68.5 174.3,67.9 176.8,67.8 179.3,65.6 181.8,64.7 184.3,63.3 186.8,63.8 189.3,62.7 191.8,61.3 194.3,61.4 196.8,60.6 199.3,58.4 201.8,59.5 204.3,58.5 206.8,57.6 209.3,57.0 211.8,58.0 214.3,57.4 216.8,57.1 219.3,54.8 221.8,54.7 224.3,55.3 226.8,53.6 229.3,53.6 231.8,52.6 234.3,54.7 236.8,53.9 239.3,53.3 241.8,52.9 244.3,52.2 246.8,52.0 248.7,52.5" stroke="#8e8e8e" stroke-opacity="0.7" stroke-width="1.0"/>
<path d="M107.3,181.2 111.3,181.2 113.6,181.1 115.3,180.9 117.3,180.5 118.5,179.7 119.6,178.2 121.2,173.8 122.7,166.3 123.9,158.8 124.9,149.9 125.9,135.9 127.1,121.9 128.4,112.8 129.5,104.1 130.7,95.2 131.3,92.4 132.1,90.0 132.7,88.3 133.3,87.1 134.3,85.6 135.2,84.6 136.6,83.4 138.2,82.3 140.7,81.3 143.2,78.6 145.7,77.7 148.2,77.0 150.7,75.6 153.2,75.0 155.7,72.4 158.2,73.1 160.7,72.1 163.2,70.5 165.7,68.7 168.2,68.6 170.7,67.3 173.2,67.1 175.7,65.8 178.2,65.4 180.7,63.8 183.2,64.2 185.7,60.9 188.2,60.9 190.7,61.2 193.2,59.1 195.7,59.8 198.2,57.9 200.7,58.1 203.2,56.9 205.7,56.6 208.2,56.4 210.7,55.8 213.2,55.1 215.7,56.3 218.2,54.4 220.7,53.4 223.2,54.2 225.7,53.8 228.2,53.7 230.7,53.8 233.2,51.7 235.7,52.7 238.2,52.5 240.7,51.5 243.2,51.4 245.7,49.0 248.2,50.4 248.7,51.9" stroke="#8e8e8e" stroke-opacity="0.7" stroke-width="1.0"/>
<path d="M102.7,181.2 106.7,181.2 109.0,181.1 110.7,180.9 112.8,180.5 114.0,179.7 115.1,178.2 116.7,173.8 118.3,166.3 119.6,158.9 120.7,150.1 122.0,136.1 123.5,122.1 124.9,113.1 126.3,104.5 127.6,95.6 128.3,92.8 129.1,90.4 129.8,88.7 130.4,87.5 131.5,86.0 132.4,85.0 133.8,83.8 135.4,82.7 137.9,81.5 140.4,79.4 142.9,78.9 145.4,78.1 147.9,76.2 150.4,76.1 152.9,74.8 155.4,72.6 157.9,72.5 160.4,72.6 162.9,71.3 165.4,69.3 167.9,69.0 170.4,67.1 172.9,65.7 175.4,66.1 177.9,65.1 180.4,64.5 182.9,63.3 185.4,62.8 187.9,61.5 190.4,61.4 192.9,60.9 195.4,59.7 197.9,59.7 200.4,57.4 202.9,57.5 205.4,58.4 207.9,58.2 210.4,56.7 212.9,56.1 215.4,54.9 217.9,55.5 220.4,55.4 222.9,53.6 225.4,54.6 227.9,54.3 230.4,54.0 232.9,52.8 235.4,53.6 237.9,52.0 240.4,53.7 242.9,52.6 245.4,51.6 247.9,53.0 248.7,52.8" stroke="#8e8e8e" stroke-opacity="0.7" stroke-width="1.0"/>
<path d="M107.6,181.2 111.6,181.2 113.9,181.1 115.6,180.9 117.6,180.5 118.8,179.6 119.9,178.2 121.4,173.8 123.0,166.2 124.1,158.8 125.1,149.9 126.1,135.8 127.3,121.7 128.6,112.7 129.7,103.9 130.9,95.0 131.5,92.2 132.2,89.8 132.8,88.1 133.5,86.9 134.5,85.4 135.4,84.3 136.8,83.1 138.4,82.0 140.9,81.1 143.4,79.1 145.9,76.9 148.4,78.3 150.9,76.3 153.4,74.6 155.9,73.6 158.4,72.0 160.9,70.6 163.4,70.0 165.9,69.0 168.4,67.8 170.9,66.3 173.4,66.1 175.9,65.7 178.4,64.2 180.9,63.6 183.4,61.4 185.9,61.8 188.4,61.0 190.9,59.5 193.4,58.4 195.9,59.1 198.4,57.6 200.9,57.8 203.4,56.6 205.9,56.6 208.4,55.5 210.9,54.2 213.4,54.6 215.9,54.0 218.4,54.1 220.9,53.0 223.4,52.6 225.9,53.0 228.4,52.9 230.9,52.3 233.4,52.2 235.9,51.5 238.4,51.4 240.9,51.2 243.4,50.6 245.9,50.2 248.4,50.0 248.7,51.4" stroke="#8e8e8e" stroke-opacity="0.7" stroke-width="1.0"/>
<path d="M110.4,181.2 114.4,181.2 116.7,181.1 118.4,180.9 120.4,180.5 121.6,179.7 122.7,178.2 124.2,173.8 125.7,166.3 126.8,158.9 127.7,150.0 128.6,136.1 129.7,122.1 130.8,113.1 131.8,104.4 132.9,95.5 133.5,92.7 134.2,90.3 134.8,88.7 135.4,87.4 136.4,85.9 137.3,84.9 138.7,83.7 140.3,82.6 142.8,80.1 145.3,80.2 147.8,79.9 150.3,77.8 152.8,76.7 155.3,74.6 157.8,75.1 160.3,72.7 162.8,72.7 165.3,71.2 167.8,69.5 170.3,69.9 172.8,68.3 175.3,67.5 177.8,66.8 180.3,65.6 182.8,64.6 185.3,64.3 187.8,62.9 190.3,62.4 192.8,61.2 195.3,60.0 197.8,59.8 200.3,59.3 202.8,59.0 205.3,59.2 207.8,56.7 210.3,57.4 212.8,55.4 215.3,55.7 217.8,55.6 220.3,54.0 222.8,53.9 225.3,54.8 227.8,54.4 230.3,54.0 232.8,53.3 235.3,54.9 237.8,53.2 240.3,52.4 242.8,53.8 245.3,52.9 247.8,52.0 248.7,53.0" stroke="#8e8e8e" stroke-opacity="0.7" stroke-width="1.0"/>
<path d="M110.9,181.2 114.9,181.2 117.2,181.1 118.9,180.9 120.9,180.5 122.1,179.7 123.2,178.2 124.7,173.8 126.2,166.3 127.3,158.9 128.2,150.0 129.1,136.0 130.2,121.9 131.3,112.9 132.3,104.2 133.4,95.3 134.0,92.5 134.7,90.1 135.3,88.5 135.9,87.2 136.9,85.7 137.8,84.7 139.2,83.5 140.8,82.4 143.3,81.6 145.8,79.3 148.3,79.4 150.8,77.6 153.3,76.4 155.8,75.1 158.3,74.8 160.8,73.2 163.3,71.4 165.8,71.1 168.3,70.3 170.8,68.4 173.3,67.6 175.8,66.7 178.3,65.7 180.8,65.5 183.3,65.0 185.8,64.8 188.3,63.5 190.8,62.6 193.3,61.9 195.8,61.3 198.3,59.5 200.8,59.5 203.3,58.6 205.8,57.7 208.3,57.0 210.8,56.4 213.3,56.0 215.8,54.9 218.3,55.6 220.8,54.8 223.3,54.5 225.8,54.3 228.3,54.2 230.8,53.0 233.3,53.0 235.8,51.7 238.3,51.1 240.8,51.0 243.3,53.0 245.8,50.6 248.3,51.8 248.7,52.4" stroke="#8e8e8e" stroke-opacity="0.7" stroke-width="1.0"/>
<path d="M108.4,181.2 112.4,181.2 114.7,181.1 116.4,180.9 118.4,180.5 119.6,179.7 120.7,178.2 122.2,173.8 123.7,166.3 124.9,158.8 125.8,149.9 126.8,135.9 128.0,121.8 129.2,112.8 130.2,104.0 131.4,95.1 132.0,92.3 132.8,89.9 133.4,88.3 134.0,87.0 135.0,85.5 135.9,84.5 137.3,83.3 138.9,82.2 141.4,80.7 143.9,78.7 146.4,78.4 148.9,75.7 151.4,75.7 153.9,75.7 156.4,73.8 158.9,73.3 161.4,71.2 163.9,69.6 166.4,69.1 168.9,68.2 171.4,68.3 173.9,67.8 176.4,65.2 178.9,64.5 181.4,63.8 183.9,62.8 186.4,61.4 188.9,61.5 191.4,60.9 193.9,60.1 196.4,58.4 198.9,58.4 201.4,56.7 203.9,57.8 206.4,56.0 208.9,55.9 211.4,55.3 213.9,54.7 216.4,53.9 218.9,53.0 221.4,54.8 223.9,53.5 226.4,53.1 228.9,54.0 231.4,52.2 233.9,52.4 236.4,51.7 238.9,52.2 241.4,51.5 243.9,51.1 246.4,50.5 248.7,50.6" stroke="#8e8e8e" stroke-opacity="0.7" stroke-width="1.0"/>
<path d="M115.1,181.2 119.1,181.2 121.4,181.1 123.1,180.9 125.1,180.5 126.3,179.7 127.4,178.2 128.9,173.8 130.4,166.4 131.5,159.0 132.4,150.2 133.3,136.3 134.4,122.3 135.5,113.4 136.5,104.7 137.6,95.9 138.2,93.1 138.9,90.7 139.5,89.1 140.1,87.9 141.1,86.4 142.0,85.4 143.4,84.2 145.0,83.1 147.5,82.9 150.0,80.7 152.5,79.3 155.0,78.1 157.5,77.0 160.0,76.9 162.5,75.2 165.0,74.7 167.5,70.9 170.0,72.2 172.5,71.7 175.0,71.3 177.5,69.2 180.0,67.2 182.5,67.8 185.0,66.2 187.5,64.6 190.0,64.6 192.5,64.9 195.0,64.3 197.5,63.2 200.0,61.4 202.5,63.0 205.0,60.0 207.5,60.1 210.0,58.7 212.5,60.0 215.0,58.9 217.5,58.7 220.0,57.8 222.5,57.3 225.0,57.0 227.5,55.3 230.0,56.8 232.5,56.5 235.0,55.3 237.5,55.3 240.0,55.3 242.5,55.9 245.0,54.9 247.5,54.4 248.7,54.0" stroke="#8e8e8e" stroke-opacity="0.7" stroke-width="1.0"/>
<path d="M104.1,181.2 108.1,181.2 110.4,181.1 112.1,180.9 114.1,180.5 115.3,179.7 116.5,178.2 118.0,173.8 119.7,166.3 120.9,158.9 122.0,150.1 123.2,136.1 124.6,122.1 126.0,113.1 127.2,104.5 128.6,95.6 129.2,92.8 130.0,90.4 130.6,88.8 131.3,87.5 132.3,86.0 133.2,85.0 134.6,83.8 136.2,82.7 138.7,81.5 141.2,79.2 143.7,78.8 146.2,77.9 148.7,77.7 151.2,75.7 153.7,74.3 156.2,74.1 158.7,72.2 161.2,71.3 163.7,70.4 166.2,68.4 168.7,69.1 171.2,67.8 173.7,66.5 176.2,65.1 178.7,65.1 181.2,65.1 183.7,63.0 186.2,61.9 188.7,62.1 191.2,60.1 193.7,59.0 196.2,59.5 198.7,58.7 201.2,58.4 203.7,57.7 206.2,57.8 208.7,56.9 211.2,56.2 213.7,55.9 216.2,56.2 218.7,56.0 221.2,55.6 223.7,55.1 226.2,52.2 228.7,53.4 231.2,53.6 233.7,53.7 236.2,52.2 238.7,54.0 241.2,53.0 243.7,52.2 246.2,52.5 248.7,52.0" stroke="#8e8e8e" stroke-opacity="0.7" stroke-width="1.0"/>
<path d="M107.3,181.2 111.3,181.2 113.6,181.1 115.3,180.9 117.4,180.5 118.6,179.7 119.7,178.2 121.2,173.8 122.8,166.3 123.9,158.9 124.9,150.0 125.9,136.0 127.2,122.0 128.4,113.0 129.5,104.2 130.7,95.3 131.4,92.5 132.1,90.1 132.7,88.5 133.3,87.2 134.3,85.7 135.2,84.7 136.6,83.5 138.2,82.4 140.7,80.4 143.2,80.9 145.7,77.9 148.2,77.9 150.7,76.4 153.2,75.8 155.7,74.2 158.2,73.6 160.7,71.9 163.2,71.5 165.7,70.1 168.2,70.3 170.7,67.5 173.2,67.8 175.7,66.5 178.2,65.4 180.7,64.1 183.2,63.9 185.7,61.8 188.2,61.1 190.7,61.7 193.2,59.5 195.7,60.7 198.2,59.0 200.7,58.7 203.2,58.0 205.7,57.6 208.2,56.6 210.7,56.1 213.2,55.8 215.7,56.1 218.2,55.7 220.7,55.4 223.2,54.4 225.7,53.7 228.2,52.4 230.7,53.6 233.2,53.5 235.7,52.4 238.2,52.9 240.7,52.9 243.2,51.9 245.7,52.3 248.2,51.6 248.7,50.2" stroke="#8e8e8e" stroke-opacity="0.7" stroke-width="1.0"/>
<path d="M108.6,181.2 112.6,181.2 114.9,181.1 116.6,180.9 118.6,180.5 119.8,179.7 120.9,178.2 122.5,173.8 124.0,166.3 125.1,158.9 126.1,150.0 127.0,136.1 128.2,122.1 129.4,113.1 130.4,104.4 131.6,95.5 132.2,92.7 132.9,90.3 133.5,88.7 134.1,87.4 135.1,86.0 136.1,84.9 137.5,83.7 139.1,82.7 141.6,81.7 144.1,79.6 146.6,80.1 149.1,77.8 151.6,76.0 154.1,75.0 156.6,73.6 159.1,73.5 161.6,73.2 164.1,71.1 166.6,70.9 169.1,68.7 171.6,68.6 174.1,69.0 176.6,65.7 179.1,66.6 181.6,65.7 184.1,62.9 186.6,62.4 189.1,61.9 191.6,62.4 194.1,60.7 196.6,60.2 199.1,60.1 201.6,59.1 204.1,58.6 206.6,57.7 209.1,58.2 211.6,56.4 214.1,57.6 216.6,55.8 219.1,55.1 221.6,55.6 224.1,55.1 226.6,53.2 229.1,54.3 231.6,53.0 234.1,53.1 236.6,53.9 239.1,52.6 241.6,53.1 244.1,52.4 246.6,53.7 248.7,52.2" stroke="#8e8e8e" stroke-opacity="0.7" stroke-width="1.0"/>
<path d="M105.6,181.2 109.6,181.2 111.9,181.1 113.6,180.9 115.7,180.5 116.9,179.7 118.0,178.2 119.5,173.8 121.1,166.3 122.3,159.0 123.4,150.1 124.5,136.1 125.8,122.2 127.1,113.2 128.3,104.5 129.6,95.7 130.2,92.9 131.0,90.5 131.6,88.9 132.2,87.6 133.3,86.1 134.2,85.1 135.6,83.9 137.2,82.8 139.7,82.3 142.2,79.6 144.7,80.9 147.2,77.3 149.7,76.6 152.2,74.9 154.7,74.6 157.2,72.6 159.7,72.5 162.2,72.2 164.7,70.7 167.2,69.4 169.7,69.7 172.2,67.2 174.7,67.5 177.2,65.9 179.7,65.4 182.2,64.5 184.7,63.7 187.2,62.8 189.7,61.6 192.2,61.0 194.7,61.0 197.2,60.0 199.7,58.7 202.2,58.4 204.7,57.9 207.2,57.8 209.7,57.5 212.2,57.0 214.7,56.1 217.2,56.1 219.7,54.8 222.2,53.5 224.7,55.0 227.2,53.6 229.7,53.8 232.2,53.4 234.7,54.3 237.2,52.9 239.7,53.6 242.2,52.9 244.7,52.2 247.2,51.8 248.7,53.0" stroke="#8e8e8e" stroke-opacity="0.7" stroke-width="1.0"/>
<path d="M112.0,181.2 116.0,181.2 118.3,181.1 120.0,180.9 122.0,180.5 123.2,179.7 124.3,178.2 125.8,173.8 127.3,166.3 128.4,158.9 129.3,150.0 130.2,135.9 131.3,121.9 132.4,112.9 133.4,104.2 134.5,95.3 135.1,92.5 135.8,90.1 136.4,88.4 137.0,87.2 138.0,85.7 138.9,84.7 140.3,83.5 141.9,82.4 144.4,81.0 146.9,79.9 149.4,78.0 151.9,76.8 154.4,75.5 156.9,75.0 159.4,74.3 161.9,73.5 164.4,71.4 166.9,70.8 169.4,68.7 171.9,67.3 174.4,67.3 176.9,66.5 179.4,65.0 181.9,64.0 184.4,64.6 186.9,62.9 189.4,61.5 191.9,63.3 194.4,61.2 196.9,60.1 199.4,60.0 201.9,58.4 204.4,59.3 206.9,56.7 209.4,56.3 211.9,56.5 214.4,55.6 216.9,56.5 219.4,54.1 221.9,54.2 224.4,54.4 226.9,54.3 229.4,54.2 231.9,53.4 234.4,54.4 236.9,52.3 239.4,52.5 241.9,52.6 244.4,51.6 246.9,51.4 248.7,51.1" stroke="#8e8e8e" stroke-opacity="0.7" stroke-width="1.0"/>
<path d="M107.5,181.2 111.5,181.2 113.8,181.1 115.5,180.9 117.5,180.5 118.7,179.7 119.8,178.2 121.3,173.8 122.9,166.4 124.0,159.0 125.0,150.1 126.0,136.2 127.3,122.2 128.5,113.2 129.6,104.6 130.8,95.7 131.4,92.9 132.2,90.5 132.8,88.9 133.4,87.6 134.4,86.1 135.3,85.1 136.7,83.9 138.3,82.9 140.8,79.9 143.3,80.7 145.8,79.5 148.3,76.9 150.8,75.9 153.3,76.1 155.8,73.8 158.3,73.1 160.8,72.9 163.3,71.3 165.8,70.8 168.3,69.0 170.8,68.8 173.3,68.5 175.8,67.1 178.3,64.6 180.8,65.7 183.3,64.5 185.8,63.0 188.3,63.8 190.8,61.0 193.3,62.6 195.8,60.3 198.3,61.1 200.8,59.5 203.3,58.1 205.8,58.5 208.3,58.1 210.8,57.8 213.3,57.7 215.8,56.0 218.3,56.4 220.8,56.2 223.3,55.2 225.8,54.4 228.3,54.1 230.8,55.0 233.3,54.7 235.8,53.4 238.3,52.9 240.8,54.3 243.3,52.3 245.8,53.2 248.3,52.3 248.7,51.7" stroke="#8e8e8e" stroke-opacity="0.7" stroke-width="1.0"/>
<path d="M110.6,181.2 114.6,181.2 116.9,181.1 118.6,180.9 120.6,180.5 121.8,179.7 122.9,178.2 124.4,173.8 125.9,166.3 127.0,158.9 127.9,150.0 128.8,136.1 129.9,122.1 131.0,113.1 132.0,104.4 133.1,95.5 133.7,92.7 134.4,90.3 135.0,88.7 135.6,87.4 136.6,85.9 137.5,84.9 138.9,83.7 140.5,82.6 143.0,81.7 145.5,78.6 148.0,78.4 150.5,78.6 153.0,76.9 155.5,74.4 158.0,73.1 160.5,73.7 163.0,72.1 165.5,70.7 168.0,70.4 170.5,68.8 173.0,67.0 175.5,67.9 178.0,66.1 180.5,65.0 183.0,63.9 185.5,64.1 188.0,62.6 190.5,62.8 193.0,61.4 195.5,61.6 198.0,60.0 200.5,59.1 203.0,57.7 205.5,57.6 208.0,58.3 210.5,59.3 213.0,56.0 215.5,55.7 218.0,56.1 220.5,55.8 223.0,54.6 225.5,54.7 228.0,53.3 230.5,53.8 233.0,54.3 235.5,54.5 238.0,53.1 240.5,52.8 243.0,53.0 245.5,53.2 248.0,52.6 248.7,51.7" stroke="#8e8e8e" stroke-opacity="0.7" stroke-width="1.0"/>
<path d="M111.5,181.2 115.5,181.2 117.8,181.1 119.5,180.9 121.5,180.5 122.7,179.7 123.8,178.2 125.3,173.8 126.8,166.3 127.9,158.9 128.8,150.0 129.7,135.9 130.8,121.9 131.9,112.9 132.9,104.2 134.0,95.3 134.6,92.5 135.3,90.1 135.9,88.4 136.5,87.2 137.5,85.7 138.4,84.6 139.8,83.4 141.4,82.3 143.9,82.0 146.4,80.5 148.9,79.0 151.4,77.4 153.9,75.3 156.4,75.3 158.9,73.8 161.4,73.2 163.9,71.7 166.4,70.2 168.9,69.0 171.4,69.1 173.9,68.6 176.4,66.6 178.9,66.2 181.4,66.0 183.9,63.7 186.4,63.2 188.9,61.8 191.4,62.5 193.9,61.1 196.4,59.9 198.9,58.4 201.4,58.7 203.9,58.9 206.4,57.4 208.9,56.8 211.4,56.9 213.9,55.2 216.4,55.6 218.9,55.5 221.4,54.1 223.9,53.7 226.4,54.0 228.9,53.4 231.4,53.0 233.9,53.0 236.4,52.7 238.9,51.7 241.4,51.6 243.9,52.0 246.4,52.2 248.7,52.1" stroke="#8e8e8e" stroke-opacity="0.7" stroke-width="1.0"/>
<path d="M106.6,181.2 110.6,181.2 112.9,181.1 114.6,180.9 116.6,180.5 117.8,179.7 118.9,178.2 120.5,173.8 122.0,166.3 123.2,158.9 124.2,149.9 125.3,135.9 126.6,121.9 127.8,112.9 129.0,104.2 130.2,95.2 130.9,92.4 131.6,90.0 132.2,88.4 132.8,87.1 133.9,85.6 134.8,84.6 136.2,83.4 137.8,82.3 140.3,80.6 142.8,78.8 145.3,79.2 147.8,77.4 150.3,76.3 152.8,74.9 155.3,73.7 157.8,72.2 160.3,71.2 162.8,70.9 165.3,69.7 167.8,69.7 170.3,67.2 172.8,66.5 175.3,65.2 177.8,65.9 180.3,63.4 182.8,63.8 185.3,63.4 187.8,61.6 190.3,61.4 192.8,58.8 195.3,59.2 197.8,57.7 200.3,58.3 202.8,57.6 205.3,56.5 207.8,57.0 210.3,56.2 212.8,55.1 215.3,54.7 217.8,53.6 220.3,54.0 222.8,55.1 225.3,52.9 227.8,53.3 230.3,52.4 232.8,53.0 235.3,52.5 237.8,51.7 240.3,50.5 242.8,51.0 245.3,51.9 247.8,50.7 248.7,51.2" stroke="#8e8e8e" stroke-opacity="0.7" stroke-width="1.0"/>
<path d="M108.2,181.2 112.2,181.2 114.5,181.1 116.2,180.9 118.2,180.5 119.4,179.7 120.5,178.2 122.0,173.8 123.6,166.4 124.7,159.0 125.7,150.2 126.7,136.2 127.9,122.3 129.0,113.4 130.1,104.7 131.3,95.9 131.9,93.1 132.6,90.7 133.2,89.1 133.9,87.8 134.9,86.3 135.8,85.3 137.2,84.1 138.8,83.0 141.3,81.8 143.8,80.9 146.3,78.8 148.8,78.0 151.3,76.8 153.8,75.8 156.3,73.4 158.8,73.6 161.3,71.9 163.8,72.7 166.3,71.8 168.8,71.0 171.3,69.5 173.8,67.8 176.3,67.9 178.8,66.3 181.3,66.0 183.8,64.2 186.3,63.7 188.8,63.6 191.3,63.7 193.8,61.8 196.3,62.6 198.8,62.3 201.3,59.1 203.8,59.4 206.3,58.3 208.8,58.3 211.3,57.6 213.8,57.4 216.3,57.7 218.8,57.3 221.3,56.5 223.8,55.9 226.3,55.7 228.8,55.4 231.3,55.5 233.8,54.8 236.3,54.9 238.8,53.5 241.3,54.7 243.8,55.1 246.3,53.8 248.7,52.6" stroke="#8e8e8e" stroke-opacity="0.7" stroke-width="1.0"/>
<path d="M115.6,181.2 119.6,181.2 121.9,181.1 123.6,180.9 125.6,180.5 126.8,179.7 127.9,178.2 129.4,173.8 130.9,166.3 132.0,158.9 132.9,150.0 133.8,136.1 134.9,122.1 136.0,113.1 137.0,104.4 138.1,95.5 138.7,92.7 139.4,90.3 140.0,88.7 140.6,87.5 141.6,86.0 142.5,85.0 143.9,83.8 145.5,82.7 148.0,81.5 150.5,80.5 153.0,78.6 155.5,78.2 158.0,77.3 160.5,75.6 163.0,75.1 165.5,72.8 168.0,72.8 170.5,71.4 173.0,69.6 175.5,69.2 178.0,68.0 180.5,67.1 183.0,66.6 185.5,66.4 188.0,64.7 190.5,64.1 193.0,62.3 195.5,62.5 198.0,62.5 200.5,61.5 203.0,60.6 205.5,59.3 208.0,58.4 210.5,58.4 213.0,57.0 215.5,56.6 218.0,57.5 220.5,55.9 223.0,57.2 225.5,54.7 228.0,55.5 230.5,54.0 233.0,54.6 235.5,53.5 238.0,53.9 240.5,53.5 243.0,53.1 245.5,53.4 248.0,53.8 248.7,52.4" stroke="#b4b4b4" stroke-opacity="0.8" stroke-width="0.8"/>
<path d="M113.8,181.2 117.8,181.2 120.1,181.1 121.8,180.9 123.8,180.5 125.0,179.7 126.1,178.2 127.6,173.8 129.1,166.3 130.2,158.9 131.1,150.0 132.0,136.0 133.1,122.0 134.2,113.0 135.2,104.3 136.3,95.4 136.9,92.7 137.6,90.2 138.2,88.6 138.8,87.4 139.8,85.9 140.7,84.9 142.1,83.6 143.7,82.6 146.2,81.1 148.7,80.4 151.2,78.9 153.7,77.7 156.2,75.4 158.7,74.5 161.2,74.3 163.7,72.0 166.2,72.2 168.7,70.6 171.2,69.5 173.7,69.5 176.2,67.7 178.7,66.7 181.2,65.9 183.7,65.5 186.2,66.4 188.7,62.5 191.2,63.0 193.7,62.1 196.2,62.1 198.7,60.5 201.2,58.4 203.7,60.2 206.2,58.1 208.7,58.1 211.2,56.7 213.7,56.4 216.2,56.3 218.7,56.7 221.2,56.2 223.7,54.9 226.2,55.2 228.7,54.2 231.2,54.2 233.7,53.9 236.2,53.9 238.7,52.9 241.2,52.9 243.7,52.9 246.2,52.5 248.7,51.7 248.7,53.3" stroke="#8e8e8e" stroke-opacity="0.7" stroke-width="1.0"/>
<path d="M108.3,181.2 112.3,181.2 114.6,181.1 116.3,180.9 118.3,180.5 119.5,179.7 120.6,178.2 122.1,173.8 123.6,166.3 124.8,158.9 125.7,150.0 126.7,136.0 127.9,121.9 129.1,112.9 130.2,104.2 131.3,95.3 132.0,92.5 132.7,90.1 133.3,88.5 133.9,87.2 134.9,85.7 135.8,84.7 137.2,83.5 138.8,82.4 141.3,81.4 143.8,79.4 146.3,78.7 148.8,77.5 151.3,75.8 153.8,74.6 156.3,73.4 158.8,72.6 161.3,70.9 163.8,70.7 166.3,68.8 168.8,68.8 171.3,67.8 173.8,66.3 176.3,66.6 178.8,66.4 181.3,65.2 183.8,62.6 186.3,63.5 188.8,62.0 191.3,61.1 193.8,60.0 196.3,59.6 198.8,59.9 201.3,58.7 203.8,57.5 206.3,56.7 208.8,56.4 211.3,56.5 213.8,56.9 216.3,54.5 218.8,54.8 221.3,54.1 223.8,53.5 226.3,53.9 228.8,53.6 231.3,52.1 233.8,52.0 236.3,53.2 238.8,52.4 241.3,52.2 243.8,51.3 246.3,51.2 248.7,51.5" stroke="#8e8e8e" stroke-opacity="0.7" stroke-width="1.0"/>
<path d="M108.1,181.2 112.1,181.2 114.4,181.1 116.1,180.9 118.1,180.5 119.3,179.7 120.4,178.2 121.9,173.8 123.5,166.4 124.6,159.0 125.6,150.1 126.6,136.2 127.8,122.2 129.0,113.2 130.0,104.6 131.2,95.7 131.8,92.9 132.6,90.5 133.2,88.9 133.8,87.6 134.8,86.1 135.7,85.1 137.1,83.9 138.7,82.9 141.2,81.3 143.7,80.1 146.2,79.2 148.7,77.2 151.2,76.1 153.7,76.0 156.2,75.0 158.7,73.1 161.2,71.6 163.7,73.0 166.2,71.2 168.7,69.8 171.2,68.0 173.7,67.4 176.2,67.1 178.7,65.4 181.2,66.3 183.7,64.5 186.2,63.9 188.7,62.2 191.2,61.5 193.7,60.9 196.2,60.9 198.7,59.9 201.2,59.3 203.7,59.1 206.2,58.5 208.7,58.8 211.2,57.3 213.7,56.3 216.2,56.5 218.7,57.1 221.2,55.4 223.7,55.4 226.2,54.8 228.7,55.0 231.2,54.6 233.7,53.7 236.2,53.8 238.7,54.3 241.2,54.2 243.7,53.9 246.2,53.6 248.7,52.6" stroke="#8e8e8e" stroke-opacity="0.7" stroke-width="1.0"/>
<path d="M108.7,181.2 112.7,181.2 115.0,181.1 116.7,180.9 118.7,180.5 119.9,179.7 121.0,178.2 122.5,173.8 124.0,166.3 125.1,158.9 126.1,150.0 127.1,135.9 128.2,121.9 129.4,112.9 130.4,104.2 131.6,95.3 132.2,92.5 132.9,90.1 133.5,88.4 134.2,87.2 135.2,85.7 136.1,84.7 137.5,83.4 139.1,82.4 141.6,82.6 144.1,80.8 146.6,78.9 149.1,77.8 151.6,75.6 154.1,74.8 156.6,73.9 159.1,72.8 161.6,71.2 164.1,70.2 166.6,70.0 169.1,68.9 171.6,66.4 174.1,66.9 176.6,66.8 179.1,64.7 181.6,64.4 184.1,62.5 186.6,63.1 189.1,61.1 191.6,60.2 194.1,60.1 196.6,61.1 199.1,58.5 201.6,57.4 204.1,57.9 206.6,57.2 209.1,57.6 211.6,55.2 214.1,54.5 216.6,54.9 219.1,54.9 221.6,54.5 224.1,54.5 226.6,52.5 229.1,52.6 231.6,52.8 234.1,53.1 236.6,52.6 239.1,51.8 241.6,51.1 244.1,52.1 246.6,51.9 248.7,52.8" stroke="#8e8e8e" stroke-opacity="0.7" stroke-width="1.0"/>
<path d="M109.5,181.2 113.5,181.2 115.8,181.1 117.5,180.9 119.5,180.5 120.7,179.7 121.8,178.2 123.3,173.8 124.8,166.3 125.9,158.8 126.8,149.9 127.7,135.9 128.9,121.8 130.0,112.8 131.0,104.1 132.1,95.1 132.7,92.3 133.4,89.9 134.0,88.3 134.7,87.0 135.7,85.5 136.6,84.5 138.0,83.3 139.6,82.2 142.1,80.9 144.6,80.1 147.1,78.2 149.6,76.9 152.1,76.8 154.6,74.2 157.1,74.2 159.6,73.1 162.1,70.6 164.6,70.6 167.1,69.1 169.6,67.8 172.1,66.3 174.6,65.5 177.1,65.9 179.6,64.5 182.1,64.1 184.6,62.4 187.1,62.0 189.6,61.2 192.1,59.6 194.6,58.8 197.1,59.4 199.6,58.6 202.1,57.2 204.6,57.1 207.1,57.1 209.6,57.3 212.1,55.0 214.6,55.5 217.1,56.0 219.6,54.2 222.1,54.7 224.6,51.7 227.1,53.9 229.6,52.6 232.1,51.1 234.6,52.5 237.1,52.4 239.6,52.2 242.1,51.9 244.6,50.9 247.1,50.2 248.7,50.2" stroke="#8e8e8e" stroke-opacity="0.7" stroke-width="1.0"/>
<path d="M110.0,181.2 114.0,181.2 116.3,181.1 118.0,180.9 120.0,180.5 121.2,179.7 122.3,178.2 123.8,173.8 125.3,166.3 126.4,158.9 127.3,150.0 128.2,136.0 129.3,122.0 130.4,113.0 131.4,104.3 132.5,95.4 133.1,92.6 133.8,90.2 134.4,88.5 135.0,87.3 136.0,85.8 136.9,84.8 138.3,83.6 139.9,82.5 142.4,81.7 144.9,80.4 147.4,78.0 149.9,78.3 152.4,75.5 154.9,75.8 157.4,74.1 159.9,72.4 162.4,71.2 164.9,70.7 167.4,69.9 169.9,68.5 172.4,68.4 174.9,66.2 177.4,66.2 179.9,65.3 182.4,63.3 184.9,63.9 187.4,62.0 189.9,60.5 192.4,60.9 194.9,60.4 197.4,60.4 199.9,58.9 202.4,59.5 204.9,58.9 207.4,58.1 209.9,57.7 212.4,56.6 214.9,55.6 217.4,55.9 219.9,55.7 222.4,54.8 224.9,54.1 227.4,52.9 229.9,54.0 232.4,53.5 234.9,52.2 237.4,52.8 239.9,52.9 242.4,52.1 244.9,52.5 247.4,52.2 248.7,50.7" stroke="#8e8e8e" stroke-opacity="0.7" stroke-width="1.0"/>
<path d="M108.9,181.2 112.9,181.2 115.2,181.1 116.9,180.9 118.9,180.5 120.1,179.7 121.2,178.2 122.8,173.8 124.3,166.3 125.4,158.9 126.3,150.0 127.3,136.0 128.4,122.0 129.6,113.0 130.6,104.3 131.8,95.4 132.4,92.6 133.1,90.2 133.7,88.5 134.3,87.3 135.3,85.8 136.2,84.8 137.6,83.5 139.2,82.5 141.7,80.8 144.2,79.9 146.7,78.6 149.2,77.9 151.7,76.1 154.2,75.7 156.7,72.9 159.2,73.7 161.7,71.8 164.2,71.6 166.7,69.9 169.2,69.4 171.7,68.9 174.2,66.7 176.7,66.2 179.2,65.2 181.7,64.6 184.2,62.6 186.7,62.7 189.2,61.8 191.7,60.7 194.2,60.4 196.7,58.8 199.2,60.0 201.7,58.8 204.2,59.1 206.7,56.8 209.2,56.1 211.7,56.5 214.2,54.8 216.7,55.6 219.2,54.5 221.7,54.3 224.2,54.3 226.7,53.8 229.2,54.7 231.7,53.6 234.2,52.1 236.7,53.3 239.2,51.5 241.7,52.2 244.2,51.1 246.7,51.1 248.7,52.3" stroke="#8e8e8e" stroke-opacity="0.7" stroke-width="1.0"/>
<path d="M107.8,181.2 111.8,181.2 114.1,181.1 115.8,180.9 117.8,180.5 119.0,179.7 120.2,178.2 121.7,173.8 123.2,166.3 124.4,159.0 125.3,150.1 126.4,136.1 127.6,122.1 128.8,113.2 129.9,104.5 131.1,95.6 131.7,92.8 132.4,90.4 133.0,88.8 133.6,87.5 134.6,86.0 135.6,85.0 137.0,83.8 138.6,82.7 141.1,80.7 143.6,80.4 146.1,77.9 148.6,77.2 151.1,76.1 153.6,75.4 156.1,73.4 158.6,74.0 161.1,72.1 163.6,71.1 166.1,70.1 168.6,68.9 171.1,67.8 173.6,68.3 176.1,66.8 178.6,65.8 181.1,65.6 183.6,63.7 186.1,63.8 188.6,62.6 191.1,61.3 193.6,61.6 196.1,59.5 198.6,60.2 201.1,58.6 203.6,58.9 206.1,58.9 208.6,57.9 211.1,56.7 213.6,56.6 216.1,55.9 218.6,55.0 221.1,54.7 223.6,55.0 226.1,55.0 228.6,53.2 231.1,54.0 233.6,54.1 236.1,53.6 238.6,52.7 241.1,53.7 243.6,52.1 246.1,53.0 248.6,53.4 248.7,51.1" stroke="#8e8e8e" stroke-opacity="0.7" stroke-width="1.0"/>
<path d="M111.0,181.2 115.0,181.2 117.3,181.1 119.0,180.9 121.0,180.5 122.2,179.7 123.3,178.2 124.8,173.8 126.3,166.3 127.4,158.9 128.3,150.0 129.2,136.0 130.3,122.0 131.4,113.0 132.4,104.3 133.5,95.4 134.1,92.6 134.8,90.2 135.4,88.6 136.0,87.3 137.0,85.8 137.9,84.8 139.3,83.6 140.9,82.5 143.4,81.3 145.9,80.1 148.4,78.4 150.9,78.2 153.4,76.6 155.9,75.7 158.4,73.7 160.9,73.6 163.4,71.3 165.9,71.2 168.4,68.3 170.9,68.3 173.4,68.5 175.9,66.8 178.4,66.3 180.9,64.3 183.4,65.5 185.9,64.1 188.4,62.9 190.9,62.3 193.4,61.5 195.9,61.5 198.4,60.0 200.9,58.3 203.4,58.4 205.9,58.8 208.4,57.8 210.9,56.7 213.4,56.8 215.9,56.0 218.4,55.9 220.9,54.1 223.4,54.1 225.9,54.7 228.4,53.8 230.9,53.9 233.4,54.6 235.9,52.9 238.4,53.0 240.9,52.2 243.4,51.9 245.9,52.0 248.4,50.9 248.7,50.4" stroke="#8e8e8e" stroke-opacity="0.7" stroke-width="1.0"/>
<path d="M115.2,181.2 119.2,181.2 121.5,181.1 123.2,180.9 125.2,180.5 126.4,179.7 127.5,178.2 129.0,173.8 130.5,166.3 131.6,158.9 132.5,150.0 133.4,136.1 134.5,122.1 135.6,113.1 136.6,104.4 137.7,95.5 138.3,92.7 139.0,90.3 139.6,88.7 140.2,87.4 141.2,85.9 142.1,84.9 143.5,83.7 145.1,82.6 147.6,80.5 150.1,80.1 152.6,78.6 155.1,77.7 157.6,76.3 160.1,76.4 162.6,73.9 165.1,71.9 167.6,72.2 170.1,71.1 172.6,70.2 175.1,68.1 177.6,68.9 180.1,67.3 182.6,66.4 185.1,64.6 187.6,65.1 190.1,63.9 192.6,64.0 195.1,62.1 197.6,60.8 200.1,60.9 202.6,59.6 205.1,59.8 207.6,58.2 210.1,58.2 212.6,57.6 215.1,57.2 217.6,56.4 220.1,55.8 222.6,55.8 225.1,55.1 227.6,55.1 230.1,54.5 232.6,52.9 235.1,54.0 237.6,54.6 240.1,53.6 242.6,53.6 245.1,53.2 247.6,52.4 248.7,51.7" stroke="#8e8e8e" stroke-opacity="0.7" stroke-width="1.0"/>
<path d="M113.1,181.2 117.1,181.2 119.4,181.1 121.1,180.9 123.1,180.5 124.3,179.7 125.4,178.2 126.9,173.8 128.4,166.3 129.5,158.9 130.4,150.0 131.3,135.9 132.4,121.9 133.5,112.9 134.5,104.2 135.6,95.3 136.2,92.5 136.9,90.1 137.5,88.4 138.1,87.2 139.1,85.7 140.0,84.6 141.4,83.4 143.0,82.3 145.5,81.2 148.0,79.0 150.5,77.1 153.0,77.2 155.5,75.6 158.0,75.1 160.5,74.8 163.0,73.7 165.5,71.8 168.0,71.3 170.5,70.7 173.0,68.7 175.5,67.9 178.0,67.3 180.5,65.9 183.0,64.7 185.5,63.7 188.0,63.3 190.5,62.1 193.0,62.2 195.5,60.7 198.0,61.1 200.5,60.2 203.0,58.0 205.5,58.8 208.0,57.3 210.5,57.9 213.0,56.8 215.5,55.9 218.0,55.9 220.5,54.7 223.0,54.8 225.5,54.4 228.0,53.7 230.5,53.6 233.0,52.5 235.5,53.1 238.0,51.8 240.5,52.6 243.0,52.2 245.5,52.1 248.0,51.1 248.7,53.2" stroke="#8e8e8e" stroke-opacity="0.7" stroke-width="1.0"/>
<path d="M109.1,181.2 113.1,181.2 115.4,181.1 117.1,180.9 119.1,180.5 120.3,179.7 121.4,178.2 122.9,173.8 124.4,166.3 125.6,158.9 126.5,150.0 127.4,136.0 128.6,122.0 129.7,113.0 130.8,104.3 131.9,95.4 132.5,92.7 133.2,90.2 133.8,88.6 134.4,87.3 135.4,85.9 136.3,84.8 137.7,83.6 139.3,82.6 141.8,81.1 144.3,79.5 146.8,78.2 149.3,77.2 151.8,76.7 154.3,75.5 156.8,74.3 159.3,73.9 161.8,71.8 164.3,70.8 166.8,69.8 169.3,70.2 171.8,66.9 174.3,67.4 176.8,66.6 179.3,65.5 181.8,66.1 184.3,64.5 186.8,63.5 189.3,61.7 191.8,61.8 194.3,60.5 196.8,60.1 199.3,59.5 201.8,58.5 204.3,58.5 206.8,58.6 209.3,57.7 211.8,56.7 214.3,54.9 216.8,56.3 219.3,55.9 221.8,54.7 224.3,54.2 226.8,54.5 229.3,53.3 231.8,54.0 234.3,52.6 236.8,52.4 239.3,52.7 241.8,51.6 244.3,52.2 246.8,52.3 248.7,51.0" stroke="#8e8e8e" stroke-opacity="0.7" stroke-width="1.0"/>
<path d="M113.7,181.2 117.7,181.2 120.0,181.1 121.7,180.9 123.7,180.5 124.9,179.7 126.0,178.2 127.5,173.8 129.0,166.3 130.1,158.9 131.0,150.1 131.9,136.1 133.0,122.1 134.1,113.1 135.1,104.5 136.2,95.6 136.8,92.8 137.5,90.4 138.1,88.8 138.7,87.5 139.7,86.0 140.6,85.0 142.0,83.8 143.6,82.7 146.1,81.9 148.6,80.4 151.1,78.5 153.6,78.2 156.1,76.7 158.6,75.8 161.1,75.0 163.6,72.8 166.1,72.2 168.6,70.9 171.1,69.8 173.6,70.6 176.1,69.0 178.6,66.5 181.1,66.9 183.6,65.5 186.1,65.7 188.6,64.2 191.1,63.3 193.6,62.7 196.1,62.1 198.6,61.1 201.1,60.3 203.6,59.7 206.1,59.5 208.6,57.9 211.1,58.0 213.6,57.5 216.1,56.8 218.6,57.0 221.1,55.4 223.6,55.5 226.1,54.8 228.6,55.3 231.1,54.3 233.6,54.4 236.1,54.3 238.6,52.8 241.1,53.8 243.6,52.8 246.1,52.9 248.6,52.7 248.7,53.3" stroke="#8e8e8e" stroke-opacity="0.7" stroke-width="1.0"/>
<path d="M113.1,181.2 117.1,181.2 119.4,181.1 121.1,180.9 123.1,180.5 124.3,179.7 125.4,178.2 126.9,173.8 128.4,166.3 129.5,158.8 130.4,149.9 131.3,135.8 132.4,121.8 133.5,112.8 134.5,104.0 135.6,95.1 136.2,92.3 136.9,89.9 137.5,88.2 138.1,87.0 139.1,85.5 140.0,84.5 141.4,83.2 143.0,82.1 145.5,80.7 148.0,78.8 150.5,78.7 153.0,76.3 155.5,76.6 158.0,74.7 160.5,72.9 163.0,71.4 165.5,72.4 168.0,71.3 170.5,68.6 173.0,69.4 175.5,67.5 178.0,66.4 180.5,65.5 183.0,64.6 185.5,64.7 188.0,63.1 190.5,61.0 193.0,62.6 195.5,61.1 198.0,59.1 200.5,58.9 203.0,57.9 205.5,57.8 208.0,57.4 210.5,56.7 213.0,55.7 215.5,55.0 218.0,55.5 220.5,54.5 223.0,55.5 225.5,53.2 228.0,53.7 230.5,52.9 233.0,52.1 235.5,53.1 238.0,52.0 240.5,51.1 243.0,51.2 245.5,51.7 248.0,50.1 248.7,51.6" stroke="#8e8e8e" stroke-opacity="0.7" stroke-width="1.0"/>
<path d="M112.9,181.2 116.9,181.2 119.2,181.1 120.9,180.9 122.9,180.5 124.1,179.7 125.2,178.2 126.7,173.8 128.2,166.3 129.3,158.9 130.2,150.0 131.1,136.1 132.2,122.1 133.3,113.1 134.3,104.4 135.4,95.5 136.0,92.7 136.7,90.3 137.3,88.7 137.9,87.4 138.9,85.9 139.8,84.9 141.2,83.7 142.8,82.6 145.3,81.4 147.8,79.2 150.3,78.8 152.8,77.3 155.3,77.3 157.8,75.8 160.3,74.5 162.8,74.3 165.3,73.1 167.8,71.6 170.3,69.8 172.8,68.3 175.3,68.3 177.8,67.2 180.3,66.1 182.8,65.5 185.3,63.8 187.8,64.9 190.3,62.5 192.8,62.0 195.3,62.0 197.8,59.9 200.3,60.8 202.8,60.2 205.3,58.8 207.8,57.7 210.3,57.6 212.8,56.2 215.3,57.7 217.8,56.4 220.3,55.5 222.8,55.0 225.3,55.5 227.8,55.7 230.3,53.6 232.8,53.7 235.3,52.7 237.8,54.0 240.3,53.4 242.8,54.4 245.3,52.7 247.8,52.3 248.7,52.0" stroke="#8e8e8e" stroke-opacity="0.7" stroke-width="1.0"/>
<path d="M113.5,181.2 117.5,181.2 119.8,181.1 121.5,180.9 123.5,180.5 124.7,179.7 125.8,178.2 127.3,173.8 128.8,166.4 129.9,159.0 130.8,150.1 131.7,136.2 132.8,122.3 133.9,113.3 134.9,104.6 136.0,95.8 136.6,93.0 137.3,90.6 137.9,89.0 138.5,87.7 139.5,86.3 140.4,85.3 141.8,84.1 143.4,83.0 145.9,81.2 148.4,80.1 150.9,79.7 153.4,78.3 155.9,76.4 158.4,75.9 160.9,74.7 163.4,74.4 165.9,72.2 168.4,72.3 170.9,71.0 173.4,69.2 175.9,69.5 178.4,68.6 180.9,66.3 183.4,67.5 185.9,64.8 188.4,64.1 190.9,63.7 193.4,63.6 195.9,62.8 198.4,61.7 200.9,61.9 203.4,60.7 205.9,60.7 208.4,61.0 210.9,58.8 213.4,56.6 215.9,57.5 218.4,56.6 220.9,56.9 223.4,56.5 225.9,55.3 228.4,55.0 230.9,55.3 233.4,55.0 235.9,53.2 238.4,55.2 240.9,54.4 243.4,54.1 245.9,54.1 248.4,53.1 248.7,53.6" stroke="#8e8e8e" stroke-opacity="0.7" stroke-width="1.0"/>
<path d="M114.3,181.2 118.3,181.2 120.6,181.1 122.3,180.9 124.3,180.5 125.5,179.7 126.6,178.2 128.1,173.8 129.6,166.3 130.7,158.9 131.6,149.9 132.5,135.9 133.6,121.9 134.7,112.9 135.7,104.2 136.8,95.2 137.4,92.4 138.1,90.0 138.7,88.4 139.3,87.1 140.3,85.6 141.2,84.6 142.6,83.4 144.2,82.3 146.7,81.0 149.2,80.4 151.7,77.6 154.2,76.1 156.7,77.2 159.2,75.0 161.7,74.8 164.2,72.9 166.7,72.6 169.2,70.3 171.7,70.0 174.2,69.6 176.7,68.4 179.2,66.5 181.7,66.5 184.2,64.6 186.7,63.3 189.2,63.7 191.7,63.4 194.2,62.2 196.7,60.1 199.2,60.7 201.7,59.9 204.2,58.5 206.7,56.6 209.2,58.2 211.7,57.5 214.2,56.8 216.7,54.8 219.2,54.5 221.7,55.6 224.2,55.1 226.7,54.4 229.2,53.6 231.7,53.6 234.2,52.7 236.7,52.5 239.2,51.9 241.7,52.3 244.2,51.6 246.7,52.2 248.7,51.9" stroke="#8e8e8e" stroke-opacity="0.7" stroke-width="1.0"/>
<path d="M106.9,181.2 110.9,181.2 113.2,181.1 114.9,180.9 116.9,180.5 118.1,179.7 119.2,178.2 120.8,173.8 122.3,166.2 123.5,158.8 124.5,149.9 125.6,135.8 126.8,121.8 128.1,112.7 129.2,104.0 130.4,95.1 131.1,92.3 131.8,89.9 132.4,88.2 133.0,86.9 134.1,85.4 135.0,84.4 136.4,83.2 138.0,82.1 140.5,78.7 143.0,79.3 145.5,78.6 148.0,76.8 150.5,75.1 153.0,74.9 155.5,74.8 158.0,72.4 160.5,70.9 163.0,69.8 165.5,70.6 168.0,68.3 170.5,67.8 173.0,67.2 175.5,66.2 178.0,64.1 180.5,64.4 183.0,63.5 185.5,62.4 188.0,61.9 190.5,60.1 193.0,59.7 195.5,58.7 198.0,58.8 200.5,57.3 203.0,57.3 205.5,55.8 208.0,55.9 210.5,55.2 213.0,54.9 215.5,54.5 218.0,53.9 220.5,53.4 223.0,51.8 225.5,53.5 228.0,52.0 230.5,52.0 233.0,51.3 235.5,52.2 238.0,50.7 240.5,51.3 243.0,51.5 245.5,51.5 248.0,51.0 248.7,50.5" stroke="#8e8e8e" stroke-opacity="0.7" stroke-width="1.0"/>
<path d="M105.2,181.2 109.2,181.2 111.5,181.1 113.2,180.9 115.2,180.5 116.5,179.7 117.6,178.2 119.1,173.8 120.7,166.3 121.9,158.8 123.0,149.9 124.1,135.9 125.5,121.9 126.8,112.8 128.0,104.1 129.3,95.2 130.0,92.4 130.7,90.0 131.4,88.3 132.0,87.1 133.0,85.6 133.9,84.6 135.3,83.3 136.9,82.3 139.4,81.5 141.9,80.0 144.4,78.9 146.9,76.3 149.4,76.4 151.9,74.9 154.4,74.2 156.9,72.7 159.4,72.3 161.9,70.8 164.4,70.0 166.9,69.5 169.4,67.8 171.9,67.4 174.4,66.0 176.9,65.3 179.4,63.8 181.9,63.7 184.4,63.2 186.9,61.5 189.4,61.3 191.9,60.3 194.4,58.6 196.9,58.9 199.4,58.9 201.9,57.1 204.4,55.7 206.9,56.5 209.4,55.4 211.9,56.5 214.4,54.8 216.9,54.4 219.4,53.6 221.9,53.7 224.4,52.9 226.9,52.3 229.4,52.5 231.9,51.8 234.4,52.9 236.9,51.0 239.4,51.4 241.9,50.8 244.4,50.1 246.9,51.8 248.7,49.2" stroke="#8e8e8e" stroke-opacity="0.7" stroke-width="1.0"/>
<path d="M111.0,181.2 115.0,181.2 117.3,181.1 119.0,180.9 121.0,180.5 122.2,179.6 123.3,178.0 124.8,173.4 126.3,165.6 127.4,157.8 128.3,148.4 129.2,133.7 130.3,119.0 131.4,109.6 132.4,100.5 133.5,91.1 134.1,88.2 134.8,85.7 137.6,78.3 139.8,74.3 142.0,73.3 144.2,72.9 146.4,68.4 148.6,67.4 150.8,67.7 153.0,65.8 155.2,64.1 157.4,63.2 159.6,61.5 161.8,61.1 164.0,61.1 166.2,59.1 168.4,58.6 170.6,58.4 172.8,58.0 175.0,55.5 177.2,55.1 179.4,53.5 181.6,52.5 183.8,51.8 186.0,50.7 188.2,49.2 190.4,48.2 192.6,48.2 194.8,48.0 197.0,48.0 199.2,46.2 201.4,45.8 203.6,45.8 205.8,45.3 208.0,44.2 210.2,43.7 212.4,44.4 214.6,42.5 216.8,41.9 219.0,40.6 221.2,41.4 223.4,40.5 225.6,41.4 227.8,39.4 230.0,39.7 232.2,39.2 234.4,39.2 236.6,36.8 238.8,38.1 241.0,36.5 243.2,35.9 245.4,35.3 247.6,34.6 248.7,34.4" stroke="#a6a6a6" stroke-width="0.8"/>
</g>
<path d="M114.0,181.2 116.3,181.1 118.0,180.9 120.0,180.5 121.2,179.7 122.3,178.2 123.8,173.8 125.3,166.3 126.4,158.9 127.3,150.0 128.2,136.0 129.3,122.0 130.4,113.0 131.4,104.3 132.5,95.4 133.1,92.6 133.8,90.2 134.4,88.6 135.0,87.3 136.0,85.8 136.9,84.8 138.3,83.6 139.9,82.5 143.0,80.8 146.0,79.4 149.0,78.0 152.0,76.5 155.0,75.1 158.0,73.8 161.0,72.5 164.0,71.3 167.0,70.1 170.0,68.9 173.0,67.8 176.0,66.8 179.0,65.7 182.0,64.7 185.0,63.7 188.0,62.7 191.0,61.8 194.0,60.9 197.0,60.0 200.0,59.2 203.0,58.5 206.0,57.8 209.0,57.1 212.0,56.5 215.0,56.0 218.0,55.4 221.0,54.9 224.0,54.4 227.0,54.0 230.0,53.6 233.0,53.3 236.0,53.0 239.0,52.6 242.0,52.3 245.0,52.0 248.0,51.8 248.7,51.7" stroke="#0a0a0a" stroke-width="1.7" fill="none" stroke-linejoin="round"/>
<line x1="130.1" y1="53.1" x2="130.1" y2="181.3" stroke="#5c5cff" stroke-width="1.8" stroke-dasharray="6.4 2.05"/>
<rect x="40.0" y="31.9" width="211.1" height="149.4" fill="none" stroke="#686868" stroke-width="1.3"/>
<g stroke="#555" stroke-width="0.9"><line x1="63.3" y1="181.3" x2="63.3" y2="178.8"/><line x1="86.8" y1="181.3" x2="86.8" y2="178.8"/><line x1="110.3" y1="181.3" x2="110.3" y2="178.8"/><line x1="133.8" y1="181.3" x2="133.8" y2="178.8"/><line x1="157.2" y1="181.3" x2="157.2" y2="178.8"/><line x1="180.7" y1="181.3" x2="180.7" y2="178.8"/><line x1="204.2" y1="181.3" x2="204.2" y2="178.8"/><line x1="227.7" y1="181.3" x2="227.7" y2="178.8"/><line x1="40.0" y1="156.5" x2="42.5" y2="156.5"/><line x1="40.0" y1="131.6" x2="42.5" y2="131.6"/><line x1="40.0" y1="106.8" x2="42.5" y2="106.8"/><line x1="40.0" y1="82.0" x2="42.5" y2="82.0"/><line x1="40.0" y1="57.1" x2="42.5" y2="57.1"/></g>
<g font-size="10" fill="#000"><text x="33.6" y="185.3" text-anchor="end">0.0</text><text x="33.6" y="160.5" text-anchor="end">0.5</text><text x="33.6" y="135.6" text-anchor="end">1.0</text><text x="33.6" y="110.8" text-anchor="end">1.5</text><text x="33.6" y="86.0" text-anchor="end">2.0</text><text x="33.6" y="61.1" text-anchor="end">2.5</text><text x="33.6" y="36.3" text-anchor="end">3.0</text><text x="63.3" y="193.6" text-anchor="middle">21.0</text><text x="110.3" y="193.6" text-anchor="middle">22.0</text><text x="157.2" y="193.6" text-anchor="middle">23.0</text><text x="204.2" y="193.6" text-anchor="middle">24.0</text><text x="251.2" y="193.6" text-anchor="middle">25.0</text>
<text x="145.4" y="206.5" text-anchor="middle">SPAD applied voltage [V]</text>
<text transform="translate(11.2,106.7) rotate(-90)" text-anchor="middle" font-size="10.25">Output count [k counts]</text>
</g>
<rect x="47.1" y="41.5" width="48.6" height="37.1" fill="#fff" stroke="#2a2aff" stroke-width="1"/>
<g font-weight="bold" fill="#1414f5"><text x="51.6" y="56.5" font-size="13.4">V<tspan font-size="8.4" dy="3" dx="0.6">bd</tspan></text>
<text x="51.6" y="72.8" font-size="13.4">20.9 V</text></g>
<text x="110.2" y="48.3" font-size="11.25" fill="#111">Count start</text>
<line x1="59.6" y1="110.8" x2="125" y2="110.8" stroke="#222" stroke-width="1.2"/>
<path d="M130,110.8 L123.8,107.8 L123.8,113.8 Z" fill="#111"/>
<text x="68.3" y="107.7" font-size="11" fill="#111">1.5 V</text>
<text x="67.2" y="117.7" font-size="8" fill="#222">Vth for counting</text>
</g>
<!-- panel b -->
<g>
<g fill="#558ed5" stroke="#000" stroke-width="1"><rect x="375.5" y="194.6" width="12.9" height="5.4"/><rect x="388.4" y="171.7" width="12.9" height="28.3"/><rect x="401.2" y="113.5" width="12.9" height="86.5"/><rect x="414.1" y="41.1" width="12.9" height="158.9"/><rect x="427.0" y="9.6" width="12.9" height="190.4"/><rect x="439.9" y="55.9" width="12.9" height="144.1"/><rect x="452.7" y="131.2" width="12.9" height="68.8"/><rect x="465.6" y="179.6" width="12.9" height="20.4"/><rect x="478.5" y="196.7" width="12.9" height="3.3"/></g>
<rect x="336.85" y="8.9" width="193.1" height="191.1" fill="none" stroke="#262626" stroke-width="1.4"/>
<g stroke="#333" stroke-width="1"><line x1="349.7" y1="200.0" x2="349.7" y2="197.0"/><line x1="362.6" y1="200.0" x2="362.6" y2="197.0"/><line x1="375.5" y1="200.0" x2="375.5" y2="197.0"/><line x1="388.4" y1="200.0" x2="388.4" y2="197.0"/><line x1="401.2" y1="200.0" x2="401.2" y2="197.0"/><line x1="414.1" y1="200.0" x2="414.1" y2="197.0"/><line x1="427.0" y1="200.0" x2="427.0" y2="197.0"/><line x1="439.9" y1="200.0" x2="439.9" y2="197.0"/><line x1="452.7" y1="200.0" x2="452.7" y2="197.0"/><line x1="465.6" y1="200.0" x2="465.6" y2="197.0"/><line x1="478.5" y1="200.0" x2="478.5" y2="197.0"/><line x1="491.4" y1="200.0" x2="491.4" y2="197.0"/><line x1="504.2" y1="200.0" x2="504.2" y2="197.0"/><line x1="517.1" y1="200.0" x2="517.1" y2="197.0"/><line x1="336.85" y1="168.2" x2="339.85" y2="168.2"/><line x1="336.85" y1="136.3" x2="339.85" y2="136.3"/><line x1="336.85" y1="104.5" x2="339.85" y2="104.5"/><line x1="336.85" y1="72.6" x2="339.85" y2="72.6"/><line x1="336.85" y1="40.8" x2="339.85" y2="40.8"/></g>
<g font-size="13" fill="#000"><text x="328.7" y="204.4" text-anchor="end">0</text><text x="328.7" y="172.6" text-anchor="end">5</text><text x="328.7" y="140.7" text-anchor="end">10</text><text x="328.7" y="108.9" text-anchor="end">15</text><text x="328.7" y="77.0" text-anchor="end">20</text><text x="328.7" y="45.1" text-anchor="end">25</text><text x="328.7" y="13.3" text-anchor="end">30</text><text x="343.3" y="215.1" text-anchor="middle">20.6</text><text x="394.8" y="215.1" text-anchor="middle">20.8</text><text x="446.3" y="215.1" text-anchor="middle">21.0</text><text x="497.8" y="215.1" text-anchor="middle">21.2</text>
<text transform="translate(303.5,104.3) rotate(-90)" text-anchor="middle" font-size="13.1">Number of pixels [k pix]</text>
<text x="415" y="229.8" font-size="12.6">V</text><text x="423.5" y="232.5" font-size="8.2">bd</text><text x="435.7" y="229.8" font-size="13.5">[V]</text>
</g>
<rect x="470" y="46.5" width="80" height="27.3" fill="#fff"/>
<g font-size="16.6" font-weight="bold" fill="#1414f5"><text transform="translate(473.2,66.4) scale(1.18,1)">σ</text>
<text x="486.9 495.9 505.0 514 519.0" y="66.4">=72 m</text><text transform="translate(533.5,66.4) scale(1.12,1)">V</text></g>
</g>
<text class="cap" x="132.8" y="263.2" font-size="16.2" text-anchor="middle" fill="#111">(<tspan font-weight="bold">a</tspan>)</text>
<text class="cap" x="422.6" y="263.2" font-size="16.2" text-anchor="middle" fill="#111">(<tspan font-weight="bold">b</tspan>)</text>
</svg>
</body></html>
